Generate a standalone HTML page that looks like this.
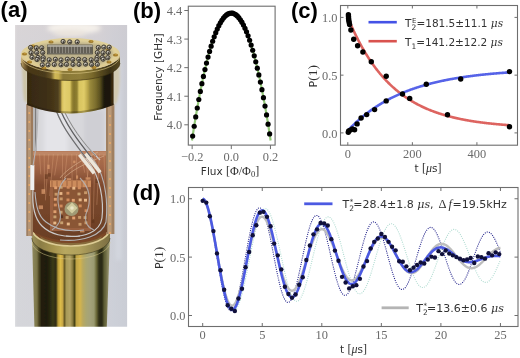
<!DOCTYPE html>
<html><head><meta charset="utf-8"><style>
html,body{margin:0;padding:0;background:#fff;}
body{width:520px;height:358px;overflow:hidden;}
svg{display:block;}
.tk{font-family:"Liberation Serif",serif;font-size:12.4px;fill:#6a6a6a;}
.lbl{font-family:"DejaVu Sans","Liberation Sans",sans-serif;font-size:10.5px;fill:#303030;}
.lg{font-family:"DejaVu Sans","Liberation Sans",sans-serif;font-size:10.5px;fill:#333;}
.mu{font-family:"DejaVu Serif","Liberation Serif",serif;font-style:italic;}
.sf{font-family:"Liberation Serif",serif;font-size:12px;}
.ser{font-family:"Liberation Serif",serif;}
.si{font-family:"Liberation Serif",serif;font-style:italic;}
.pl{font-family:"Liberation Sans",Arial,sans-serif;font-weight:bold;font-size:22px;fill:#000;}
</style></head><body>
<svg width="520" height="358" viewBox="0 0 520 358">
<defs><clipPath id="ph"><rect x="15" y="25" width="112.3" height="301.8"/></clipPath><filter id="blp" x="0" y="0" width="100%" height="100%"><feGaussianBlur stdDeviation="0.55"/></filter><filter id="bl05" x="-20%" y="-20%" width="140%" height="140%"><feGaussianBlur stdDeviation="0.45"/></filter><filter id="bl1" x="-20%" y="-20%" width="140%" height="140%"><feGaussianBlur stdDeviation="0.8"/></filter><filter id="bl2" x="-50%" y="-50%" width="200%" height="200%"><feGaussianBlur stdDeviation="2"/></filter><linearGradient id="bgv" gradientUnits="userSpaceOnUse" x1="0" y1="25" x2="0" y2="326"><stop offset="0.0000" stop-color="#dcd2d2"/><stop offset="0.0831" stop-color="#d8d2d4"/><stop offset="0.2492" stop-color="#d4d2d6"/><stop offset="1.0000" stop-color="#d3d5da"/></linearGradient><linearGradient id="bgh" gradientUnits="userSpaceOnUse" x1="15" y1="0" x2="126.5" y2="0"><stop offset="0.0000" stop-color="#e4e4e6"/><stop offset="0.0179" stop-color="#d6d6da"/><stop offset="0.7623" stop-color="#d0d0d6"/><stop offset="0.8879" stop-color="#c8ccd6"/><stop offset="1.0000" stop-color="#c4c8d2"/></linearGradient><linearGradient id="side" gradientUnits="userSpaceOnUse" x1="27" y1="0" x2="113.6" y2="0"><stop offset="0.0000" stop-color="#4a3a1c"/><stop offset="0.0173" stop-color="#36280f"/><stop offset="0.0924" stop-color="#3a2c14"/><stop offset="0.2079" stop-color="#3c2e16"/><stop offset="0.2887" stop-color="#443418"/><stop offset="0.3580" stop-color="#4e3e1c"/><stop offset="0.3868" stop-color="#7a6830"/><stop offset="0.4042" stop-color="#d4bc58"/><stop offset="0.4273" stop-color="#e4d070"/><stop offset="0.4965" stop-color="#dcc864"/><stop offset="0.5196" stop-color="#9a8834"/><stop offset="0.5427" stop-color="#84742c"/><stop offset="0.5774" stop-color="#908030"/><stop offset="0.6005" stop-color="#d8c460"/><stop offset="0.6582" stop-color="#e0cc68"/><stop offset="0.7044" stop-color="#b8a448"/><stop offset="0.7275" stop-color="#9a8a3c"/><stop offset="0.7968" stop-color="#7a6c2c"/><stop offset="0.8430" stop-color="#5a5020"/><stop offset="0.8891" stop-color="#1e1a0a"/><stop offset="0.9584" stop-color="#1a1608"/><stop offset="0.9815" stop-color="#3a2a10"/><stop offset="1.0000" stop-color="#3a2c12"/></linearGradient><linearGradient id="lip" gradientUnits="userSpaceOnUse" x1="21" y1="0" x2="120" y2="0"><stop offset="0.0000" stop-color="#c8b078"/><stop offset="0.0303" stop-color="#8a7040"/><stop offset="0.0707" stop-color="#4a3818"/><stop offset="0.2424" stop-color="#4a3a1a"/><stop offset="0.3030" stop-color="#6a5828"/><stop offset="0.3434" stop-color="#d0b858"/><stop offset="0.3788" stop-color="#c8b050"/><stop offset="0.4242" stop-color="#8a7838"/><stop offset="0.5960" stop-color="#907e3a"/><stop offset="0.7172" stop-color="#7a6a2c"/><stop offset="0.7980" stop-color="#5a4c20"/><stop offset="0.8990" stop-color="#3a3016"/><stop offset="1.0000" stop-color="#5a4c24"/></linearGradient><radialGradient id="topsurf" cx="0.5" cy="0.45" r="0.62"><stop offset="0" stop-color="#e2d4a4"/><stop offset="0.75" stop-color="#e0d098"/><stop offset="0.9" stop-color="#dcc68c"/><stop offset="1" stop-color="#cdb478"/></radialGradient><linearGradient id="cyl" gradientUnits="userSpaceOnUse" x1="32" y1="0" x2="110" y2="0"><stop offset="0.0000" stop-color="#9a9468"/><stop offset="0.0192" stop-color="#8a8458"/><stop offset="0.0641" stop-color="#7a7448"/><stop offset="0.0897" stop-color="#4a4420"/><stop offset="0.1218" stop-color="#221e0c"/><stop offset="0.1923" stop-color="#1e1c0c"/><stop offset="0.2308" stop-color="#2a2a12"/><stop offset="0.2692" stop-color="#3a3a18"/><stop offset="0.3077" stop-color="#2e2c12"/><stop offset="0.3333" stop-color="#b89a38"/><stop offset="0.3654" stop-color="#dcbc48"/><stop offset="0.3910" stop-color="#caa844"/><stop offset="0.4167" stop-color="#6a5c28"/><stop offset="0.4423" stop-color="#a89a58"/><stop offset="0.4872" stop-color="#b4a464"/><stop offset="0.5192" stop-color="#8a7c40"/><stop offset="0.5449" stop-color="#4a4418"/><stop offset="0.5705" stop-color="#c0a444"/><stop offset="0.6154" stop-color="#d4b44c"/><stop offset="0.6538" stop-color="#b8a860"/><stop offset="0.6923" stop-color="#aaa670"/><stop offset="0.7436" stop-color="#a4a27a"/><stop offset="0.7949" stop-color="#9a9a70"/><stop offset="0.8269" stop-color="#6a6838"/><stop offset="0.8590" stop-color="#2e2e14"/><stop offset="0.8974" stop-color="#2a2a12"/><stop offset="0.9231" stop-color="#5a5a34"/><stop offset="0.9487" stop-color="#6e6c44"/><stop offset="0.9744" stop-color="#8a8862"/><stop offset="1.0000" stop-color="#9a9670"/></linearGradient><linearGradient id="cylrim" gradientUnits="userSpaceOnUse" x1="31" y1="0" x2="111" y2="0"><stop offset="0.0000" stop-color="#a09460"/><stop offset="0.1125" stop-color="#8a7c44"/><stop offset="0.3000" stop-color="#a89650"/><stop offset="0.4250" stop-color="#b8a860"/><stop offset="0.6125" stop-color="#b0a05c"/><stop offset="0.8000" stop-color="#948650"/><stop offset="1.0000" stop-color="#7a6c40"/></linearGradient><linearGradient id="plate" gradientUnits="userSpaceOnUse" x1="0" y1="150" x2="0" y2="240"><stop offset="0.0000" stop-color="#b27452"/><stop offset="0.2000" stop-color="#a06446"/><stop offset="0.3889" stop-color="#7e4a2e"/><stop offset="1.0000" stop-color="#6a3e24"/></linearGradient></defs>
<g clip-path="url(#ph)"><g filter="url(#blp)">
<rect x="15" y="25" width="112.3" height="302" fill="url(#bgv)"/>
<rect x="15" y="25" width="112.3" height="302" fill="url(#bgh)" opacity="0.6"/>
<ellipse cx="74" cy="28" rx="27" ry="6" fill="#f4f0ea" filter="url(#bl2)"/>
<ellipse cx="70" cy="33" rx="16" ry="3" fill="#ebe4dc" filter="url(#bl2)"/>
<rect x="36" y="108" width="70" height="50" fill="#d8d8dc"/>
<rect x="44" y="110" width="24" height="45" fill="#e4e4e8" filter="url(#bl2)"/>
<rect x="84" y="110" width="20" height="45" fill="#cfcfd4" filter="url(#bl2)"/>
<rect x="116" y="60" width="5" height="200" fill="#d4d8e0" filter="url(#bl2)"/>
<path d="M32,236 L110,236 L106.8,327 L34.4,327 Z" fill="url(#cyl)"/>
<path d="M31.8,229 A39,17 0 0 0 110,229 L110,238 A39,17 0 0 1 31.8,238 Z" fill="url(#cylrim)"/>
<path d="M31.8,238 A39,17 0 0 0 110,238" fill="none" stroke="#3a3418" stroke-width="1" opacity="0.55"/>
<path d="M32,242 A39,17 0 0 0 110,242" fill="none" stroke="#d8c888" stroke-width="1" opacity="0.5"/>
<ellipse cx="70.9" cy="229" rx="38.6" ry="17" fill="#7a4628"/>
<path d="M40,236 A34,12 0 0 0 102,236 L100,240 A32,9 0 0 1 42,240 Z" fill="#8a7440" opacity="0.8"/>
<ellipse cx="70.9" cy="229" rx="38.6" ry="17" fill="none" stroke="#dccc94" stroke-width="1.7"/>
<rect x="26.3" y="104" width="6.7" height="132" fill="#9c7a5c"/>
<rect x="27.8" y="104" width="3.2" height="132" fill="#b89878" opacity="0.9"/>
<rect x="33" y="104" width="2" height="52" fill="#b8b6b6"/>
<rect x="35" y="104" width="1.4" height="52" fill="#7e7c7c"/>
<rect x="106" y="104" width="8.4" height="130" fill="#a08060"/>
<rect x="108" y="104" width="3.6" height="130" fill="#bc9c7c" opacity="0.9"/>
<circle cx="29.3" cy="113" r="1.0" fill="#e8a868"/>
<circle cx="110" cy="116" r="1.0" fill="#e8a868"/>
<circle cx="29.3" cy="122" r="1.0" fill="#e8a868"/>
<circle cx="110" cy="125" r="1.0" fill="#e8a868"/>
<circle cx="29.3" cy="131" r="1.0" fill="#e8a868"/>
<circle cx="110" cy="134" r="1.0" fill="#e8a868"/>
<circle cx="29.3" cy="140" r="1.0" fill="#e8a868"/>
<circle cx="110" cy="143" r="1.0" fill="#e8a868"/>
<circle cx="29.3" cy="149" r="1.0" fill="#e8a868"/>
<circle cx="110" cy="152" r="1.0" fill="#e8a868"/>
<circle cx="29.3" cy="158" r="1.0" fill="#e8a868"/>
<circle cx="110" cy="161" r="1.0" fill="#e8a868"/>
<circle cx="29.3" cy="167" r="1.0" fill="#e8a868"/>
<circle cx="110" cy="170" r="1.0" fill="#e8a868"/>
<circle cx="29.3" cy="176" r="1.0" fill="#e8a868"/>
<circle cx="110" cy="179" r="1.0" fill="#e8a868"/>
<circle cx="29.3" cy="185" r="1.0" fill="#e8a868"/>
<circle cx="110" cy="188" r="1.0" fill="#e8a868"/>
<circle cx="29.3" cy="194" r="1.0" fill="#e8a868"/>
<circle cx="110" cy="197" r="1.0" fill="#e8a868"/>
<circle cx="29.3" cy="203" r="1.0" fill="#e8a868"/>
<circle cx="110" cy="206" r="1.0" fill="#e8a868"/>
<circle cx="29.3" cy="212" r="1.0" fill="#e8a868"/>
<circle cx="110" cy="215" r="1.0" fill="#e8a868"/>
<circle cx="29.3" cy="221" r="1.0" fill="#e8a868"/>
<circle cx="110" cy="224" r="1.0" fill="#e8a868"/>
<circle cx="29.3" cy="230" r="1.0" fill="#e8a868"/>
<circle cx="110" cy="233" r="1.0" fill="#e8a868"/>
<path d="M33,151 L106,151 L107,232 Q71,250 33,232 Z" fill="url(#plate)"/>
<rect x="33" y="151.5" width="73" height="4" fill="#c08a68" opacity="0.9"/>
<line x1="35.0" y1="154" x2="33.6" y2="179.1" stroke="#e0a880" stroke-width="0.6" opacity="0.55"/>
<line x1="39.6" y1="154" x2="40.8" y2="174.3" stroke="#e0a880" stroke-width="0.6" opacity="0.55"/>
<line x1="44.2" y1="154" x2="44.5" y2="191.9" stroke="#e0a880" stroke-width="0.6" opacity="0.55"/>
<line x1="48.8" y1="154" x2="45.3" y2="200.4" stroke="#e0a880" stroke-width="0.6" opacity="0.55"/>
<line x1="53.4" y1="154" x2="49.7" y2="196.0" stroke="#e0a880" stroke-width="0.6" opacity="0.55"/>
<line x1="58.0" y1="154" x2="54.6" y2="175.4" stroke="#e0a880" stroke-width="0.6" opacity="0.55"/>
<line x1="62.6" y1="154" x2="62.0" y2="219.6" stroke="#e0a880" stroke-width="0.6" opacity="0.55"/>
<line x1="67.2" y1="154" x2="64.2" y2="183.4" stroke="#e0a880" stroke-width="0.6" opacity="0.55"/>
<line x1="71.8" y1="154" x2="72.8" y2="226.9" stroke="#e0a880" stroke-width="0.6" opacity="0.55"/>
<line x1="76.4" y1="154" x2="77.0" y2="193.8" stroke="#e0a880" stroke-width="0.6" opacity="0.55"/>
<line x1="81.0" y1="154" x2="84.8" y2="172.8" stroke="#e0a880" stroke-width="0.6" opacity="0.55"/>
<line x1="85.6" y1="154" x2="88.5" y2="187.4" stroke="#e0a880" stroke-width="0.6" opacity="0.55"/>
<line x1="90.2" y1="154" x2="87.4" y2="177.1" stroke="#e0a880" stroke-width="0.6" opacity="0.55"/>
<line x1="94.8" y1="154" x2="93.3" y2="219.0" stroke="#e0a880" stroke-width="0.6" opacity="0.55"/>
<line x1="99.4" y1="154" x2="96.8" y2="204.9" stroke="#e0a880" stroke-width="0.6" opacity="0.55"/>
<line x1="104.0" y1="154" x2="105.1" y2="192.3" stroke="#e0a880" stroke-width="0.6" opacity="0.55"/>
<rect x="73.2" y="160.6" width="2.2" height="2.6" fill="#e0a070" opacity="0.7"/>
<rect x="82.3" y="187.6" width="2.9" height="3.8" fill="#5a3018" opacity="0.5"/>
<rect x="66.8" y="178.2" width="4.4" height="4.1" fill="#e0a070" opacity="0.7"/>
<rect x="52.6" y="198.5" width="3.6" height="4.6" fill="#5a3018" opacity="0.5"/>
<rect x="85.6" y="177.3" width="4.9" height="2.4" fill="#e0a070" opacity="0.7"/>
<rect x="64.4" y="212.0" width="2.5" height="3.5" fill="#5a3018" opacity="0.5"/>
<rect x="38.7" y="205.4" width="4.3" height="3.7" fill="#e0a070" opacity="0.7"/>
<rect x="95.5" y="179.2" width="4.1" height="3.8" fill="#5a3018" opacity="0.5"/>
<rect x="75.4" y="189.8" width="4.5" height="4.8" fill="#e0a070" opacity="0.7"/>
<rect x="68.2" y="205.1" width="2.2" height="4.1" fill="#5a3018" opacity="0.5"/>
<rect x="80.0" y="229.5" width="4.5" height="2.9" fill="#e0a070" opacity="0.7"/>
<rect x="62.2" y="205.5" width="2.1" height="3.4" fill="#5a3018" opacity="0.5"/>
<rect x="47.4" y="164.7" width="2.2" height="4.3" fill="#e0a070" opacity="0.7"/>
<rect x="44.8" y="174.3" width="3.2" height="4.6" fill="#5a3018" opacity="0.5"/>
<rect x="41.5" y="189.2" width="3.6" height="4.7" fill="#e0a070" opacity="0.7"/>
<rect x="91.7" y="219.9" width="2.8" height="3.2" fill="#5a3018" opacity="0.5"/>
<rect x="60.4" y="221.4" width="4.9" height="2.5" fill="#e0a070" opacity="0.7"/>
<rect x="48.0" y="173.2" width="2.7" height="3.5" fill="#5a3018" opacity="0.5"/>
<rect x="76.1" y="175.4" width="2.0" height="3.3" fill="#e0a070" opacity="0.7"/>
<rect x="61.1" y="197.9" width="4.9" height="4.1" fill="#5a3018" opacity="0.5"/>
<rect x="50" y="180" width="41" height="51" fill="#9a6040"/>
<rect x="50" y="180.5" width="41" height="6.5" fill="#cc8c5c"/>
<line x1="52.0" y1="181" x2="52.0" y2="187" stroke="#8a5030" stroke-width="0.7"/>
<line x1="57.0" y1="181" x2="57.0" y2="187" stroke="#8a5030" stroke-width="0.7"/>
<line x1="62.0" y1="181" x2="62.0" y2="187" stroke="#8a5030" stroke-width="0.7"/>
<line x1="67.0" y1="181" x2="67.0" y2="187" stroke="#8a5030" stroke-width="0.7"/>
<line x1="72.0" y1="181" x2="72.0" y2="187" stroke="#8a5030" stroke-width="0.7"/>
<line x1="77.0" y1="181" x2="77.0" y2="187" stroke="#8a5030" stroke-width="0.7"/>
<line x1="82.0" y1="181" x2="82.0" y2="187" stroke="#8a5030" stroke-width="0.7"/>
<line x1="87.0" y1="181" x2="87.0" y2="187" stroke="#8a5030" stroke-width="0.7"/>
<rect x="53" y="188" width="35" height="40" fill="#8a5636"/>
<rect x="54.2" y="186.4" width="3" height="2.8" fill="#e0a070"/>
<rect x="54.6" y="192.8" width="3" height="2.8" fill="#c89868"/>
<rect x="53.8" y="197.9" width="3" height="2.8" fill="#e0a070"/>
<rect x="53.8" y="203.6" width="3" height="2.8" fill="#d08c5c"/>
<rect x="53.4" y="210.3" width="3" height="2.8" fill="#e0a070"/>
<rect x="53.4" y="215.5" width="3" height="2.8" fill="#c8a070"/>
<rect x="53.3" y="221.6" width="3" height="2.8" fill="#e8b888"/>
<rect x="59.6" y="185.9" width="3" height="2.8" fill="#c8a070"/>
<rect x="59.4" y="192.1" width="3" height="2.8" fill="#e8b888"/>
<rect x="59.7" y="197.5" width="3" height="2.8" fill="#c89868"/>
<rect x="59.6" y="204.6" width="3" height="2.8" fill="#d08c5c"/>
<rect x="59.5" y="210.8" width="3" height="2.8" fill="#c8a070"/>
<rect x="60.1" y="215.3" width="3" height="2.8" fill="#5a3420"/>
<rect x="60.2" y="221.4" width="3" height="2.8" fill="#c8a070"/>
<rect x="66.7" y="185.9" width="3" height="2.8" fill="#d08c5c"/>
<rect x="66.4" y="191.8" width="3" height="2.8" fill="#d08c5c"/>
<rect x="66.5" y="198.5" width="3" height="2.8" fill="#d08c5c"/>
<rect x="65.6" y="216.1" width="3" height="2.8" fill="#c8a070"/>
<rect x="66.8" y="222.6" width="3" height="2.8" fill="#e8b888"/>
<rect x="72.3" y="186.8" width="3" height="2.8" fill="#e8b888"/>
<rect x="71.8" y="198.9" width="3" height="2.8" fill="#e0a070"/>
<rect x="71.6" y="203.6" width="3" height="2.8" fill="#d08c5c"/>
<rect x="72.8" y="210.3" width="3" height="2.8" fill="#e0a070"/>
<rect x="72.2" y="216.6" width="3" height="2.8" fill="#e0a070"/>
<rect x="77.8" y="186.4" width="3" height="2.8" fill="#d08c5c"/>
<rect x="77.5" y="192.6" width="3" height="2.8" fill="#c8a070"/>
<rect x="78.7" y="198.5" width="3" height="2.8" fill="#e8b888"/>
<rect x="78.7" y="204.5" width="3" height="2.8" fill="#d08c5c"/>
<rect x="78.1" y="216.0" width="3" height="2.8" fill="#c89868"/>
<rect x="78.5" y="222.9" width="3" height="2.8" fill="#c89868"/>
<rect x="84.1" y="191.3" width="3" height="2.8" fill="#c89868"/>
<rect x="84.0" y="198.8" width="3" height="2.8" fill="#e8b888"/>
<rect x="84.6" y="209.3" width="3" height="2.8" fill="#d08c5c"/>
<rect x="83.6" y="216.2" width="3" height="2.8" fill="#c8a070"/>
<rect x="84.5" y="221.4" width="3" height="2.8" fill="#c89868"/>
<circle cx="71.5" cy="209" r="7" fill="#a09a74"/>
<path d="M66.5,208 L72,202.5 L77.5,208 L72,213.5 Z" fill="#d2cca0"/>
<circle cx="72" cy="208" r="1.8" fill="#eae6c8"/>
<rect x="30.3" y="165" width="4" height="25" fill="#f0f0f0"/>
<path d="M54,104 C60,125 74,142 90,164 C100,178 104,200 102,218 C100,232 84,238 66,236" fill="none" stroke="#cacaca" stroke-width="1.2"/>
<path d="M58,104 C65,124 79,142 95,162 C106,178 108,204 106,222 C102,236 82,242 60,240" fill="none" stroke="#b4b4b6" stroke-width="1.1"/>
<path d="M61,104 C70,126 84,144 100,160" fill="none" stroke="#cacaca" stroke-width="1.2"/>
<path d="M38,104 C38,130 36,150 33,166" fill="none" stroke="#b4b4b6" stroke-width="1.1"/>
<path d="M33,190 C32,206 34,218 42,226 C50,234 64,238 80,236" fill="none" stroke="#cacaca" stroke-width="1.2"/>
<path d="M35,192 C36,206 38,216 46,222 C56,230 70,232 84,230" fill="none" stroke="#b4b4b6" stroke-width="1.1"/>
<path d="M66,178 C58,186 56,198 60,212 C62,220 58,226 52,230" fill="none" stroke="#b4b4b6" stroke-width="1.1" opacity="0.85"/>
<path d="M80,178 C90,188 92,200 86,214 C84,222 88,228 94,230" fill="none" stroke="#b4b4b6" stroke-width="1.1" opacity="0.85"/>
<path d="M60,178 C66,170 78,162 98,152" fill="none" stroke="#d8b090" stroke-width="0.8" opacity="0.8"/>
<path d="M64,178 C72,170 84,164 104,156" fill="none" stroke="#d8b090" stroke-width="0.8" opacity="0.8"/>
<rect x="85" y="152" width="3.6" height="24" fill="#ece6da" transform="rotate(-38 86.8 164)"/>
<rect x="91" y="151" width="3.6" height="24" fill="#ece6da" transform="rotate(-38 92.8 163)"/>
<path d="M54,104 C60,125 74,142 86,158" fill="none" stroke="#6c6c6e" stroke-width="1.1"/>
<path d="M58,104 C65,124 79,142 91,157" fill="none" stroke="#5e5e60" stroke-width="1.1"/>
<path d="M61,104 C70,126 84,144 96,156" fill="none" stroke="#8a8a8c" stroke-width="1"/>
<path d="M21.5,60 L27.5,66 L27.5,104 L24,100 Q22.5,90 22.5,78 Z" fill="#cdc4a6" filter="url(#bl1)"/>
<path d="M119.5,58 L113,66 L113,106 L117,102 Q119.5,92 119.8,80 Z" fill="#d2cab0" filter="url(#bl1)"/>
<path d="M27,70 L27,105 Q70,122 113.6,105 L113.6,70 Z" fill="url(#side)"/>
<path d="M27,103 Q70,120 113.6,103 L113.6,105 Q70,122 27,105 Z" fill="#1e180a" opacity="0.3"/>
<path d="M21,54.5 A49.5,16.5 0 0 0 120,54.5 L120,63 A49.5,17.5 0 0 1 21,63 Z" fill="url(#lip)"/>
<path d="M21.5,57 A49,16.5 0 0 0 119.5,57" fill="none" stroke="#e0cc88" stroke-width="1" opacity="0.6"/>
<path d="M21,63 A49.5,17.5 0 0 0 120,63" fill="none" stroke="#3a2e10" stroke-width="1" opacity="0.6"/>
<ellipse cx="70.5" cy="54.5" rx="49.5" ry="16.5" fill="url(#topsurf)"/>
<ellipse cx="24.5" cy="54" rx="2.6" ry="1.6" fill="#a07a2a"/>
<ellipse cx="24.9" cy="53.6" rx="1.3" ry="0.8" fill="#c8a040" opacity="0.7"/>
<ellipse cx="29.5" cy="62" rx="2.6" ry="1.6" fill="#a07a2a"/>
<ellipse cx="29.9" cy="61.6" rx="1.3" ry="0.8" fill="#c8a040" opacity="0.7"/>
<ellipse cx="44" cy="68" rx="2.6" ry="1.6" fill="#a07a2a"/>
<ellipse cx="44.4" cy="67.6" rx="1.3" ry="0.8" fill="#c8a040" opacity="0.7"/>
<ellipse cx="70" cy="69.5" rx="2.6" ry="1.6" fill="#a07a2a"/>
<ellipse cx="70.4" cy="69.1" rx="1.3" ry="0.8" fill="#c8a040" opacity="0.7"/>
<ellipse cx="94" cy="67.5" rx="2.6" ry="1.6" fill="#a07a2a"/>
<ellipse cx="94.4" cy="67.1" rx="1.3" ry="0.8" fill="#c8a040" opacity="0.7"/>
<ellipse cx="109" cy="62" rx="2.6" ry="1.6" fill="#a07a2a"/>
<ellipse cx="109.4" cy="61.6" rx="1.3" ry="0.8" fill="#c8a040" opacity="0.7"/>
<ellipse cx="115.5" cy="55" rx="2.6" ry="1.6" fill="#a07a2a"/>
<ellipse cx="115.9" cy="54.6" rx="1.3" ry="0.8" fill="#c8a040" opacity="0.7"/>
<ellipse cx="108" cy="49.5" rx="2.6" ry="1.6" fill="#a07a2a"/>
<ellipse cx="108.4" cy="49.1" rx="1.3" ry="0.8" fill="#c8a040" opacity="0.7"/>
<ellipse cx="91" cy="41.5" rx="2.6" ry="1.6" fill="#a07a2a"/>
<ellipse cx="91.4" cy="41.1" rx="1.3" ry="0.8" fill="#c8a040" opacity="0.7"/>
<ellipse cx="51" cy="42" rx="2.6" ry="1.6" fill="#a07a2a"/>
<ellipse cx="51.4" cy="41.6" rx="1.3" ry="0.8" fill="#c8a040" opacity="0.7"/>
<ellipse cx="33" cy="46" rx="2.6" ry="1.6" fill="#a07a2a"/>
<ellipse cx="33.4" cy="45.6" rx="1.3" ry="0.8" fill="#c8a040" opacity="0.7"/>
<path d="M28,53 C28,46 46,42 70,42 C96,42 113,46 113,53 C113,62 96,67.5 70,67.5 C46,67.5 28,62 28,53 Z" fill="#7e786a" opacity="0.35" filter="url(#bl1)"/>
<circle cx="30.6" cy="47.5" r="2.15" fill="#9a958a" stroke="#2e2a22" stroke-width="0.8"/>
<circle cx="30.1" cy="46.9" r="0.6" fill="#e8e4da"/>
<circle cx="30.9" cy="48.1" r="0.8" fill="#2a2620"/>
<circle cx="36.3" cy="47.8" r="2.15" fill="#9a958a" stroke="#2e2a22" stroke-width="0.8"/>
<circle cx="35.8" cy="47.2" r="0.6" fill="#e8e4da"/>
<circle cx="36.6" cy="48.4" r="0.8" fill="#2a2620"/>
<circle cx="41.7" cy="47.8" r="2.15" fill="#9a958a" stroke="#2e2a22" stroke-width="0.8"/>
<circle cx="41.2" cy="47.2" r="0.6" fill="#e8e4da"/>
<circle cx="42.0" cy="48.4" r="0.8" fill="#2a2620"/>
<circle cx="98.3" cy="47.5" r="2.15" fill="#9a958a" stroke="#2e2a22" stroke-width="0.8"/>
<circle cx="97.8" cy="46.9" r="0.6" fill="#e8e4da"/>
<circle cx="98.6" cy="48.1" r="0.8" fill="#2a2620"/>
<circle cx="103.8" cy="47.1" r="2.15" fill="#9a958a" stroke="#2e2a22" stroke-width="0.8"/>
<circle cx="103.3" cy="46.5" r="0.6" fill="#e8e4da"/>
<circle cx="104.1" cy="47.7" r="0.8" fill="#2a2620"/>
<circle cx="109.2" cy="47.2" r="2.15" fill="#9a958a" stroke="#2e2a22" stroke-width="0.8"/>
<circle cx="108.7" cy="46.6" r="0.6" fill="#e8e4da"/>
<circle cx="109.5" cy="47.8" r="0.8" fill="#2a2620"/>
<circle cx="31.1" cy="52.7" r="2.15" fill="#9a958a" stroke="#2e2a22" stroke-width="0.8"/>
<circle cx="30.6" cy="52.1" r="0.6" fill="#e8e4da"/>
<circle cx="31.4" cy="53.3" r="0.8" fill="#2a2620"/>
<circle cx="36.7" cy="52.5" r="2.15" fill="#9a958a" stroke="#2e2a22" stroke-width="0.8"/>
<circle cx="36.2" cy="51.9" r="0.6" fill="#e8e4da"/>
<circle cx="37.0" cy="53.1" r="0.8" fill="#2a2620"/>
<circle cx="42.7" cy="52.5" r="2.15" fill="#9a958a" stroke="#2e2a22" stroke-width="0.8"/>
<circle cx="42.2" cy="51.9" r="0.6" fill="#e8e4da"/>
<circle cx="43.0" cy="53.1" r="0.8" fill="#2a2620"/>
<circle cx="97.4" cy="52.5" r="2.15" fill="#9a958a" stroke="#2e2a22" stroke-width="0.8"/>
<circle cx="96.9" cy="51.9" r="0.6" fill="#e8e4da"/>
<circle cx="97.7" cy="53.1" r="0.8" fill="#2a2620"/>
<circle cx="103.0" cy="52.7" r="2.15" fill="#9a958a" stroke="#2e2a22" stroke-width="0.8"/>
<circle cx="102.5" cy="52.1" r="0.6" fill="#e8e4da"/>
<circle cx="103.3" cy="53.3" r="0.8" fill="#2a2620"/>
<circle cx="108.2" cy="52.5" r="2.15" fill="#9a958a" stroke="#2e2a22" stroke-width="0.8"/>
<circle cx="107.7" cy="51.9" r="0.6" fill="#e8e4da"/>
<circle cx="108.5" cy="53.1" r="0.8" fill="#2a2620"/>
<circle cx="32.0" cy="57.3" r="2.15" fill="#9a958a" stroke="#2e2a22" stroke-width="0.8"/>
<circle cx="31.5" cy="56.7" r="0.6" fill="#e8e4da"/>
<circle cx="32.3" cy="57.9" r="0.8" fill="#2a2620"/>
<circle cx="38.0" cy="57.5" r="2.15" fill="#9a958a" stroke="#2e2a22" stroke-width="0.8"/>
<circle cx="37.5" cy="56.9" r="0.6" fill="#e8e4da"/>
<circle cx="38.3" cy="58.1" r="0.8" fill="#2a2620"/>
<circle cx="43.3" cy="57.7" r="2.15" fill="#9a958a" stroke="#2e2a22" stroke-width="0.8"/>
<circle cx="42.8" cy="57.1" r="0.6" fill="#e8e4da"/>
<circle cx="43.6" cy="58.3" r="0.8" fill="#2a2620"/>
<circle cx="97.1" cy="57.5" r="2.15" fill="#9a958a" stroke="#2e2a22" stroke-width="0.8"/>
<circle cx="96.6" cy="56.9" r="0.6" fill="#e8e4da"/>
<circle cx="97.4" cy="58.1" r="0.8" fill="#2a2620"/>
<circle cx="102.3" cy="57.5" r="2.15" fill="#9a958a" stroke="#2e2a22" stroke-width="0.8"/>
<circle cx="101.8" cy="56.9" r="0.6" fill="#e8e4da"/>
<circle cx="102.6" cy="58.1" r="0.8" fill="#2a2620"/>
<circle cx="107.8" cy="57.7" r="2.15" fill="#9a958a" stroke="#2e2a22" stroke-width="0.8"/>
<circle cx="107.3" cy="57.1" r="0.6" fill="#e8e4da"/>
<circle cx="108.1" cy="58.3" r="0.8" fill="#2a2620"/>
<circle cx="37.0" cy="59.5" r="2.15" fill="#9a958a" stroke="#2e2a22" stroke-width="0.8"/>
<circle cx="36.5" cy="58.9" r="0.6" fill="#e8e4da"/>
<circle cx="37.3" cy="60.1" r="0.8" fill="#2a2620"/>
<circle cx="43.0" cy="59.9" r="2.15" fill="#9a958a" stroke="#2e2a22" stroke-width="0.8"/>
<circle cx="42.5" cy="59.3" r="0.6" fill="#e8e4da"/>
<circle cx="43.3" cy="60.5" r="0.8" fill="#2a2620"/>
<circle cx="49.2" cy="59.8" r="2.15" fill="#9a958a" stroke="#2e2a22" stroke-width="0.8"/>
<circle cx="48.7" cy="59.2" r="0.6" fill="#e8e4da"/>
<circle cx="49.5" cy="60.4" r="0.8" fill="#2a2620"/>
<circle cx="55.4" cy="59.3" r="2.15" fill="#9a958a" stroke="#2e2a22" stroke-width="0.8"/>
<circle cx="54.9" cy="58.7" r="0.6" fill="#e8e4da"/>
<circle cx="55.7" cy="59.9" r="0.8" fill="#2a2620"/>
<circle cx="61.0" cy="59.9" r="2.15" fill="#9a958a" stroke="#2e2a22" stroke-width="0.8"/>
<circle cx="60.5" cy="59.3" r="0.6" fill="#e8e4da"/>
<circle cx="61.3" cy="60.5" r="0.8" fill="#2a2620"/>
<circle cx="67.3" cy="59.2" r="2.15" fill="#9a958a" stroke="#2e2a22" stroke-width="0.8"/>
<circle cx="66.8" cy="58.6" r="0.6" fill="#e8e4da"/>
<circle cx="67.6" cy="59.8" r="0.8" fill="#2a2620"/>
<circle cx="72.7" cy="59.5" r="2.15" fill="#9a958a" stroke="#2e2a22" stroke-width="0.8"/>
<circle cx="72.2" cy="58.9" r="0.6" fill="#e8e4da"/>
<circle cx="73.0" cy="60.1" r="0.8" fill="#2a2620"/>
<circle cx="78.7" cy="59.3" r="2.15" fill="#9a958a" stroke="#2e2a22" stroke-width="0.8"/>
<circle cx="78.2" cy="58.7" r="0.6" fill="#e8e4da"/>
<circle cx="79.0" cy="59.9" r="0.8" fill="#2a2620"/>
<circle cx="84.7" cy="59.6" r="2.15" fill="#9a958a" stroke="#2e2a22" stroke-width="0.8"/>
<circle cx="84.2" cy="59.0" r="0.6" fill="#e8e4da"/>
<circle cx="85.0" cy="60.2" r="0.8" fill="#2a2620"/>
<circle cx="91.2" cy="59.8" r="2.15" fill="#9a958a" stroke="#2e2a22" stroke-width="0.8"/>
<circle cx="90.7" cy="59.2" r="0.6" fill="#e8e4da"/>
<circle cx="91.5" cy="60.4" r="0.8" fill="#2a2620"/>
<circle cx="96.7" cy="59.7" r="2.15" fill="#9a958a" stroke="#2e2a22" stroke-width="0.8"/>
<circle cx="96.2" cy="59.1" r="0.6" fill="#e8e4da"/>
<circle cx="97.0" cy="60.3" r="0.8" fill="#2a2620"/>
<circle cx="103.1" cy="59.2" r="2.15" fill="#9a958a" stroke="#2e2a22" stroke-width="0.8"/>
<circle cx="102.6" cy="58.6" r="0.6" fill="#e8e4da"/>
<circle cx="103.4" cy="59.8" r="0.8" fill="#2a2620"/>
<circle cx="42.3" cy="64.9" r="2.15" fill="#9a958a" stroke="#2e2a22" stroke-width="0.8"/>
<circle cx="41.8" cy="64.3" r="0.6" fill="#e8e4da"/>
<circle cx="42.6" cy="65.5" r="0.8" fill="#2a2620"/>
<circle cx="48.0" cy="64.9" r="2.15" fill="#9a958a" stroke="#2e2a22" stroke-width="0.8"/>
<circle cx="47.5" cy="64.3" r="0.6" fill="#e8e4da"/>
<circle cx="48.3" cy="65.5" r="0.8" fill="#2a2620"/>
<circle cx="54.3" cy="64.5" r="2.15" fill="#9a958a" stroke="#2e2a22" stroke-width="0.8"/>
<circle cx="53.8" cy="63.9" r="0.6" fill="#e8e4da"/>
<circle cx="54.6" cy="65.1" r="0.8" fill="#2a2620"/>
<circle cx="61.0" cy="64.8" r="2.15" fill="#9a958a" stroke="#2e2a22" stroke-width="0.8"/>
<circle cx="60.5" cy="64.2" r="0.6" fill="#e8e4da"/>
<circle cx="61.3" cy="65.4" r="0.8" fill="#2a2620"/>
<circle cx="66.5" cy="64.4" r="2.15" fill="#9a958a" stroke="#2e2a22" stroke-width="0.8"/>
<circle cx="66.0" cy="63.8" r="0.6" fill="#e8e4da"/>
<circle cx="66.8" cy="65.0" r="0.8" fill="#2a2620"/>
<circle cx="73.0" cy="64.4" r="2.15" fill="#9a958a" stroke="#2e2a22" stroke-width="0.8"/>
<circle cx="72.5" cy="63.8" r="0.6" fill="#e8e4da"/>
<circle cx="73.3" cy="65.0" r="0.8" fill="#2a2620"/>
<circle cx="79.0" cy="64.4" r="2.15" fill="#9a958a" stroke="#2e2a22" stroke-width="0.8"/>
<circle cx="78.5" cy="63.8" r="0.6" fill="#e8e4da"/>
<circle cx="79.3" cy="65.0" r="0.8" fill="#2a2620"/>
<circle cx="85.6" cy="64.1" r="2.15" fill="#9a958a" stroke="#2e2a22" stroke-width="0.8"/>
<circle cx="85.1" cy="63.5" r="0.6" fill="#e8e4da"/>
<circle cx="85.9" cy="64.7" r="0.8" fill="#2a2620"/>
<circle cx="91.6" cy="64.5" r="2.15" fill="#9a958a" stroke="#2e2a22" stroke-width="0.8"/>
<circle cx="91.1" cy="63.9" r="0.6" fill="#e8e4da"/>
<circle cx="91.9" cy="65.1" r="0.8" fill="#2a2620"/>
<circle cx="97.4" cy="64.4" r="2.15" fill="#9a958a" stroke="#2e2a22" stroke-width="0.8"/>
<circle cx="96.9" cy="63.8" r="0.6" fill="#e8e4da"/>
<circle cx="97.7" cy="65.0" r="0.8" fill="#2a2620"/>
<circle cx="63.1" cy="41.5" r="2.15" fill="#9a958a" stroke="#2e2a22" stroke-width="0.8"/>
<circle cx="62.6" cy="40.9" r="0.6" fill="#e8e4da"/>
<circle cx="63.4" cy="42.1" r="0.8" fill="#2a2620"/>
<circle cx="69.7" cy="41.9" r="2.15" fill="#9a958a" stroke="#2e2a22" stroke-width="0.8"/>
<circle cx="69.2" cy="41.3" r="0.6" fill="#e8e4da"/>
<circle cx="70.0" cy="42.5" r="0.8" fill="#2a2620"/>
<circle cx="77.2" cy="41.9" r="2.15" fill="#9a958a" stroke="#2e2a22" stroke-width="0.8"/>
<circle cx="76.7" cy="41.3" r="0.6" fill="#e8e4da"/>
<circle cx="77.5" cy="42.5" r="0.8" fill="#2a2620"/>
<rect x="47.5" y="45" width="45" height="9" fill="#8c887e" stroke="#3a362e" stroke-width="0.6"/>
<line x1="49.0" y1="45.8" x2="49.0" y2="53.2" stroke="#3a362e" stroke-width="1"/>
<line x1="52.0" y1="45.8" x2="52.0" y2="53.2" stroke="#3a362e" stroke-width="1"/>
<line x1="55.0" y1="45.8" x2="55.0" y2="53.2" stroke="#3a362e" stroke-width="1"/>
<line x1="58.0" y1="45.8" x2="58.0" y2="53.2" stroke="#3a362e" stroke-width="1"/>
<line x1="61.0" y1="45.8" x2="61.0" y2="53.2" stroke="#3a362e" stroke-width="1"/>
<line x1="64.0" y1="45.8" x2="64.0" y2="53.2" stroke="#3a362e" stroke-width="1"/>
<line x1="67.0" y1="45.8" x2="67.0" y2="53.2" stroke="#3a362e" stroke-width="1"/>
<line x1="70.0" y1="45.8" x2="70.0" y2="53.2" stroke="#3a362e" stroke-width="1"/>
<line x1="73.0" y1="45.8" x2="73.0" y2="53.2" stroke="#3a362e" stroke-width="1"/>
<line x1="76.0" y1="45.8" x2="76.0" y2="53.2" stroke="#3a362e" stroke-width="1"/>
<line x1="79.0" y1="45.8" x2="79.0" y2="53.2" stroke="#3a362e" stroke-width="1"/>
<line x1="82.0" y1="45.8" x2="82.0" y2="53.2" stroke="#3a362e" stroke-width="1"/>
<line x1="85.0" y1="45.8" x2="85.0" y2="53.2" stroke="#3a362e" stroke-width="1"/>
<line x1="88.0" y1="45.8" x2="88.0" y2="53.2" stroke="#3a362e" stroke-width="1"/>
<line x1="91.0" y1="45.8" x2="91.0" y2="53.2" stroke="#3a362e" stroke-width="1"/>
<rect x="47.5" y="45" width="45" height="2" fill="#b4b0a4" opacity="0.8"/>
</g></g>
<polyline points="191.95,140.52 192.35,137.92 192.75,135.35 193.14,132.80 193.54,130.29 193.93,127.80 194.33,125.34 194.72,122.91 195.12,120.51 195.51,118.13 195.91,115.78 196.30,113.47 196.70,111.17 197.09,108.91 197.49,106.68 197.89,104.47 198.28,102.29 198.68,100.13 199.07,98.01 199.47,95.91 199.86,93.84 200.26,91.80 200.65,89.78 201.05,87.79 201.44,85.83 201.84,83.89 202.24,81.99 202.63,80.11 203.03,78.25 203.42,76.42 203.82,74.62 204.21,72.85 204.61,71.10 205.00,69.38 205.40,67.69 205.79,66.02 206.19,64.38 206.59,62.76 206.98,61.17 207.38,59.61 207.77,58.08 208.17,56.57 208.56,55.08 208.96,53.63 209.35,52.20 209.75,50.79 210.14,49.41 210.54,48.06 210.94,46.73 211.33,45.43 211.73,44.16 212.12,42.91 212.52,41.69 212.91,40.49 213.31,39.32 213.70,38.18 214.10,37.06 214.49,35.96 214.89,34.89 215.28,33.85 215.68,32.84 216.08,31.85 216.47,30.88 216.87,29.94 217.26,29.03 217.66,28.14 218.05,27.28 218.45,26.44 218.84,25.63 219.24,24.84 219.63,24.08 220.03,23.35 220.43,22.64 220.82,21.95 221.22,21.30 221.61,20.66 222.01,20.06 222.40,19.47 222.80,18.92 223.19,18.38 223.59,17.88 223.98,17.40 224.38,16.94 224.78,16.51 225.17,16.11 225.57,15.73 225.96,15.37 226.36,15.05 226.75,14.74 227.15,14.46 227.54,14.21 227.94,13.98 228.33,13.78 228.73,13.61 229.13,13.45 229.52,13.33 229.92,13.23 230.31,13.15 230.71,13.10 231.10,13.07 231.50,13.07 231.89,13.10 232.29,13.15 232.68,13.23 233.08,13.33 233.47,13.45 233.87,13.61 234.27,13.78 234.66,13.98 235.06,14.21 235.45,14.46 235.85,14.74 236.24,15.05 236.64,15.37 237.03,15.73 237.43,16.11 237.82,16.51 238.22,16.94 238.62,17.40 239.01,17.88 239.41,18.38 239.80,18.92 240.20,19.47 240.59,20.06 240.99,20.66 241.38,21.30 241.78,21.95 242.17,22.64 242.57,23.35 242.97,24.08 243.36,24.84 243.76,25.63 244.15,26.44 244.55,27.28 244.94,28.14 245.34,29.03 245.73,29.94 246.13,30.88 246.52,31.85 246.92,32.84 247.32,33.85 247.71,34.89 248.11,35.96 248.50,37.06 248.90,38.18 249.29,39.32 249.69,40.49 250.08,41.69 250.48,42.91 250.87,44.16 251.27,45.43 251.66,46.73 252.06,48.06 252.46,49.41 252.85,50.79 253.25,52.20 253.64,53.63 254.04,55.08 254.43,56.57 254.83,58.08 255.22,59.61 255.62,61.17 256.01,62.76 256.41,64.38 256.81,66.02 257.20,67.69 257.60,69.38 257.99,71.10 258.39,72.85 258.78,74.62 259.18,76.42 259.57,78.25 259.97,80.11 260.36,81.99 260.76,83.89 261.16,85.83 261.55,87.79 261.95,89.78 262.34,91.80 262.74,93.84 263.13,95.91 263.53,98.01 263.92,100.13 264.32,102.29 264.71,104.47 265.11,106.68 265.51,108.91 265.90,111.17 266.30,113.47 266.69,115.78 267.09,118.13 267.48,120.51 267.88,122.91 268.27,125.34 268.67,127.80 269.06,130.29 269.46,132.80 269.85,135.35 270.25,137.92 270.65,140.52" fill="none" stroke="#94c97a" stroke-width="2.2"/>
<circle cx="192.64" cy="136.03" r="2.6" fill="#000"/>
<circle cx="194.18" cy="126.25" r="2.6" fill="#000"/>
<circle cx="195.72" cy="116.91" r="2.6" fill="#000"/>
<circle cx="197.26" cy="107.98" r="2.6" fill="#000"/>
<circle cx="198.80" cy="99.48" r="2.6" fill="#000"/>
<circle cx="200.34" cy="91.39" r="2.6" fill="#000"/>
<circle cx="201.88" cy="83.71" r="2.6" fill="#000"/>
<circle cx="203.42" cy="76.44" r="2.6" fill="#000"/>
<circle cx="204.96" cy="69.58" r="2.6" fill="#000"/>
<circle cx="206.50" cy="63.12" r="2.6" fill="#000"/>
<circle cx="208.04" cy="57.06" r="2.6" fill="#000"/>
<circle cx="209.58" cy="51.40" r="2.6" fill="#000"/>
<circle cx="211.12" cy="46.13" r="2.6" fill="#000"/>
<circle cx="212.66" cy="41.26" r="2.6" fill="#000"/>
<circle cx="214.20" cy="36.78" r="2.6" fill="#000"/>
<circle cx="215.74" cy="32.70" r="2.6" fill="#000"/>
<circle cx="217.28" cy="29.00" r="2.6" fill="#000"/>
<circle cx="218.82" cy="25.69" r="2.6" fill="#000"/>
<circle cx="220.36" cy="22.76" r="2.6" fill="#000"/>
<circle cx="221.89" cy="20.23" r="2.6" fill="#000"/>
<circle cx="223.43" cy="18.07" r="2.6" fill="#000"/>
<circle cx="224.97" cy="16.31" r="2.6" fill="#000"/>
<circle cx="226.51" cy="14.92" r="2.6" fill="#000"/>
<circle cx="228.05" cy="13.92" r="2.6" fill="#000"/>
<circle cx="229.59" cy="13.31" r="2.6" fill="#000"/>
<circle cx="231.13" cy="13.07" r="2.6" fill="#000"/>
<circle cx="232.67" cy="13.22" r="2.6" fill="#000"/>
<circle cx="234.21" cy="13.76" r="2.6" fill="#000"/>
<circle cx="235.75" cy="14.67" r="2.6" fill="#000"/>
<circle cx="237.29" cy="15.97" r="2.6" fill="#000"/>
<circle cx="238.83" cy="17.66" r="2.6" fill="#000"/>
<circle cx="240.37" cy="19.73" r="2.6" fill="#000"/>
<circle cx="241.91" cy="22.18" r="2.6" fill="#000"/>
<circle cx="243.45" cy="25.02" r="2.6" fill="#000"/>
<circle cx="244.99" cy="28.25" r="2.6" fill="#000"/>
<circle cx="246.53" cy="31.86" r="2.6" fill="#000"/>
<circle cx="248.07" cy="35.87" r="2.6" fill="#000"/>
<circle cx="249.61" cy="40.26" r="2.6" fill="#000"/>
<circle cx="251.15" cy="45.05" r="2.6" fill="#000"/>
<circle cx="252.69" cy="50.23" r="2.6" fill="#000"/>
<circle cx="254.23" cy="55.80" r="2.6" fill="#000"/>
<circle cx="255.77" cy="61.78" r="2.6" fill="#000"/>
<circle cx="257.31" cy="68.15" r="2.6" fill="#000"/>
<circle cx="258.85" cy="74.93" r="2.6" fill="#000"/>
<circle cx="260.39" cy="82.11" r="2.6" fill="#000"/>
<circle cx="261.93" cy="89.69" r="2.6" fill="#000"/>
<circle cx="263.47" cy="97.69" r="2.6" fill="#000"/>
<circle cx="265.01" cy="106.11" r="2.6" fill="#000"/>
<circle cx="266.55" cy="114.94" r="2.6" fill="#000"/>
<circle cx="268.09" cy="124.20" r="2.6" fill="#000"/>
<circle cx="269.63" cy="133.88" r="2.6" fill="#000"/>
<rect x="188.3" y="6.2" width="86.80" height="138.90" fill="none" stroke="#6e6e6e" stroke-width="1.1"/>
<line x1="184.3" y1="124.80" x2="188.3" y2="124.80" stroke="#6e6e6e" stroke-width="1"/>
<text x="182.3" y="129.40" class="tk" text-anchor="end">4.0</text>
<line x1="184.3" y1="96.23" x2="188.3" y2="96.23" stroke="#6e6e6e" stroke-width="1"/>
<text x="182.3" y="100.83" class="tk" text-anchor="end">4.1</text>
<line x1="184.3" y1="67.65" x2="188.3" y2="67.65" stroke="#6e6e6e" stroke-width="1"/>
<text x="182.3" y="72.25" class="tk" text-anchor="end">4.2</text>
<line x1="184.3" y1="39.08" x2="188.3" y2="39.08" stroke="#6e6e6e" stroke-width="1"/>
<text x="182.3" y="43.68" class="tk" text-anchor="end">4.3</text>
<line x1="184.3" y1="10.50" x2="188.3" y2="10.50" stroke="#6e6e6e" stroke-width="1"/>
<text x="182.3" y="15.10" class="tk" text-anchor="end">4.4</text>
<line x1="192.15" y1="145.1" x2="192.15" y2="149.1" stroke="#6e6e6e" stroke-width="1"/>
<text x="192.15" y="161.1" class="tk" text-anchor="middle">−0.2</text>
<line x1="231.30" y1="145.1" x2="231.30" y2="149.1" stroke="#6e6e6e" stroke-width="1"/>
<text x="231.30" y="161.1" class="tk" text-anchor="middle">0.0</text>
<line x1="270.45" y1="145.1" x2="270.45" y2="149.1" stroke="#6e6e6e" stroke-width="1"/>
<text x="270.45" y="161.1" class="tk" text-anchor="middle">0.2</text>
<text x="230" y="175" class="lbl" text-anchor="middle">Flux <tspan class="sf">[Φ/Φ</tspan><tspan class="sf" style="font-size:8.5px" dy="2.2">0</tspan><tspan class="sf" dy="-2.2">]</tspan></text>
<text transform="translate(162,77) rotate(-90)" class="lbl" text-anchor="middle">Frequency [GHz]</text>
<polyline points="347.80,17.40 348.34,18.71 348.88,20.00 349.42,21.27 349.96,22.54 350.50,23.78 351.04,25.01 351.58,26.23 352.12,27.43 352.66,28.62 353.20,29.80 353.74,30.96 354.28,32.10 354.82,33.24 355.36,34.36 355.90,35.47 356.44,36.56 356.98,37.64 357.52,38.71 358.06,39.77 358.60,40.81 359.14,41.84 359.68,42.86 360.22,43.87 360.76,44.86 361.29,45.84 361.83,46.82 362.37,47.78 362.91,48.73 363.45,49.66 363.99,50.59 364.53,51.51 365.07,52.41 365.61,53.31 366.15,54.19 366.69,55.06 367.23,55.93 367.77,56.78 368.31,57.62 368.85,58.46 369.39,59.28 369.93,60.09 370.47,60.90 371.01,61.69 371.55,62.48 372.09,63.25 372.63,64.02 373.17,64.78 373.71,65.53 374.25,66.27 374.79,67.00 375.33,67.72 375.87,68.44 376.41,69.14 376.95,69.84 377.49,70.53 378.03,71.21 378.57,71.88 379.11,72.55 379.65,73.21 380.19,73.86 380.73,74.50 381.27,75.13 381.81,75.76 382.35,76.38 382.89,76.99 383.43,77.60 383.97,78.20 384.51,78.79 385.05,79.37 385.59,79.95 386.13,80.52 386.67,81.08 387.21,81.64 387.75,82.19 388.28,82.73 388.82,83.27 389.36,83.80 389.90,84.33 390.44,84.85 390.98,85.36 391.52,85.87 392.06,86.37 392.60,86.86 393.14,87.35 393.68,87.83 394.22,88.31 394.76,88.78 395.30,89.25 395.84,89.71 396.38,90.17 396.92,90.62 397.46,91.06 398.00,91.50 398.54,91.93 399.08,92.36 399.62,92.79 400.16,93.21 400.70,93.62 401.24,94.03 401.78,94.44 402.32,94.84 402.86,95.23 403.40,95.62 403.94,96.01 404.48,96.39 405.02,96.76 405.56,97.14 406.10,97.51 406.64,97.87 407.18,98.23 407.72,98.58 408.26,98.93 408.80,99.28 409.34,99.62 409.88,99.96 410.42,100.30 410.96,100.63 411.50,100.96 412.04,101.28 412.58,101.60 413.12,101.91 413.66,102.22 414.20,102.53 414.74,102.84 415.27,103.14 415.81,103.44 416.35,103.73 416.89,104.02 417.43,104.31 417.97,104.59 418.51,104.87 419.05,105.15 419.59,105.42 420.13,105.69 420.67,105.96 421.21,106.22 421.75,106.48 422.29,106.74 422.83,107.00 423.37,107.25 423.91,107.50 424.45,107.74 424.99,107.99 425.53,108.23 426.07,108.47 426.61,108.70 427.15,108.93 427.69,109.16 428.23,109.39 428.77,109.61 429.31,109.83 429.85,110.05 430.39,110.27 430.93,110.48 431.47,110.69 432.01,110.90 432.55,111.11 433.09,111.31 433.63,111.51 434.17,111.71 434.71,111.91 435.25,112.10 435.79,112.29 436.33,112.48 436.87,112.67 437.41,112.85 437.95,113.04 438.49,113.22 439.03,113.40 439.57,113.57 440.11,113.75 440.65,113.92 441.19,114.09 441.73,114.26 442.26,114.42 442.80,114.59 443.34,114.75 443.88,114.91 444.42,115.07 444.96,115.23 445.50,115.38 446.04,115.54 446.58,115.69 447.12,115.84 447.66,115.99 448.20,116.13 448.74,116.28 449.28,116.42 449.82,116.56 450.36,116.70 450.90,116.84 451.44,116.97 451.98,117.11 452.52,117.24 453.06,117.37 453.60,117.50 454.14,117.63 454.68,117.76 455.22,117.88 455.76,118.01 456.30,118.13 456.84,118.25 457.38,118.37 457.92,118.49 458.46,118.60 459.00,118.72 459.54,118.83 460.08,118.94 460.62,119.06 461.16,119.17 461.70,119.27 462.24,119.38 462.78,119.49 463.32,119.59 463.86,119.70 464.40,119.80 464.94,119.90 465.48,120.00 466.02,120.10 466.56,120.20 467.10,120.29 467.64,120.39 468.18,120.48 468.72,120.58 469.25,120.67 469.79,120.76 470.33,120.85 470.87,120.94 471.41,121.03 471.95,121.11 472.49,121.20 473.03,121.28 473.57,121.37 474.11,121.45 474.65,121.53 475.19,121.61 475.73,121.69 476.27,121.77 476.81,121.85 477.35,121.93 477.89,122.00 478.43,122.08 478.97,122.15 479.51,122.22 480.05,122.30 480.59,122.37 481.13,122.44 481.67,122.51 482.21,122.58 482.75,122.65 483.29,122.72 483.83,122.78 484.37,122.85 484.91,122.91 485.45,122.98 485.99,123.04 486.53,123.11 487.07,123.17 487.61,123.23 488.15,123.29 488.69,123.35 489.23,123.41 489.77,123.47 490.31,123.53 490.85,123.58 491.39,123.64 491.93,123.70 492.47,123.75 493.01,123.81 493.55,123.86 494.09,123.91 494.63,123.97 495.17,124.02 495.71,124.07 496.24,124.12 496.78,124.17 497.32,124.22 497.86,124.27 498.40,124.32 498.94,124.37 499.48,124.41 500.02,124.46 500.56,124.51 501.10,124.55 501.64,124.60 502.18,124.64 502.72,124.69 503.26,124.73 503.80,124.77 504.34,124.82 504.88,124.86 505.42,124.90 505.96,124.94 506.50,124.98 507.04,125.02 507.58,125.06 508.12,125.10 508.66,125.14 509.20,125.18" fill="none" stroke="#d9534f" stroke-width="2.6" opacity="0.9"/>
<polyline points="347.80,130.59 348.34,130.02 348.88,129.46 349.42,128.90 349.96,128.34 350.50,127.79 351.04,127.25 351.58,126.71 352.12,126.17 352.66,125.65 353.20,125.12 353.74,124.60 354.28,124.09 354.82,123.58 355.36,123.07 355.90,122.57 356.44,122.07 356.98,121.58 357.52,121.09 358.06,120.61 358.60,120.13 359.14,119.66 359.68,119.19 360.22,118.72 360.76,118.26 361.29,117.81 361.83,117.35 362.37,116.90 362.91,116.46 363.45,116.02 363.99,115.58 364.53,115.15 365.07,114.72 365.61,114.30 366.15,113.88 366.69,113.46 367.23,113.05 367.77,112.64 368.31,112.23 368.85,111.83 369.39,111.44 369.93,111.04 370.47,110.65 371.01,110.26 371.55,109.88 372.09,109.50 372.63,109.12 373.17,108.75 373.71,108.38 374.25,108.01 374.79,107.65 375.33,107.29 375.87,106.94 376.41,106.58 376.95,106.23 377.49,105.89 378.03,105.54 378.57,105.20 379.11,104.87 379.65,104.53 380.19,104.20 380.73,103.87 381.27,103.55 381.81,103.23 382.35,102.91 382.89,102.59 383.43,102.28 383.97,101.97 384.51,101.66 385.05,101.36 385.59,101.05 386.13,100.76 386.67,100.46 387.21,100.17 387.75,99.88 388.28,99.59 388.82,99.30 389.36,99.02 389.90,98.74 390.44,98.46 390.98,98.19 391.52,97.91 392.06,97.64 392.60,97.37 393.14,97.11 393.68,96.85 394.22,96.59 394.76,96.33 395.30,96.07 395.84,95.82 396.38,95.57 396.92,95.32 397.46,95.07 398.00,94.83 398.54,94.59 399.08,94.35 399.62,94.11 400.16,93.87 400.70,93.64 401.24,93.41 401.78,93.18 402.32,92.95 402.86,92.73 403.40,92.51 403.94,92.29 404.48,92.07 405.02,91.85 405.56,91.64 406.10,91.42 406.64,91.21 407.18,91.00 407.72,90.80 408.26,90.59 408.80,90.39 409.34,90.19 409.88,89.99 410.42,89.79 410.96,89.60 411.50,89.40 412.04,89.21 412.58,89.02 413.12,88.83 413.66,88.64 414.20,88.46 414.74,88.28 415.27,88.09 415.81,87.91 416.35,87.73 416.89,87.56 417.43,87.38 417.97,87.21 418.51,87.04 419.05,86.87 419.59,86.70 420.13,86.53 420.67,86.36 421.21,86.20 421.75,86.04 422.29,85.88 422.83,85.72 423.37,85.56 423.91,85.40 424.45,85.25 424.99,85.09 425.53,84.94 426.07,84.79 426.61,84.64 427.15,84.49 427.69,84.34 428.23,84.20 428.77,84.05 429.31,83.91 429.85,83.77 430.39,83.63 430.93,83.49 431.47,83.35 432.01,83.21 432.55,83.08 433.09,82.94 433.63,82.81 434.17,82.68 434.71,82.55 435.25,82.42 435.79,82.29 436.33,82.16 436.87,82.04 437.41,81.91 437.95,81.79 438.49,81.67 439.03,81.55 439.57,81.43 440.11,81.31 440.65,81.19 441.19,81.07 441.73,80.96 442.26,80.84 442.80,80.73 443.34,80.62 443.88,80.50 444.42,80.39 444.96,80.28 445.50,80.18 446.04,80.07 446.58,79.96 447.12,79.86 447.66,79.75 448.20,79.65 448.74,79.55 449.28,79.44 449.82,79.34 450.36,79.24 450.90,79.14 451.44,79.05 451.98,78.95 452.52,78.85 453.06,78.76 453.60,78.66 454.14,78.57 454.68,78.48 455.22,78.38 455.76,78.29 456.30,78.20 456.84,78.11 457.38,78.02 457.92,77.94 458.46,77.85 459.00,77.76 459.54,77.68 460.08,77.59 460.62,77.51 461.16,77.43 461.70,77.34 462.24,77.26 462.78,77.18 463.32,77.10 463.86,77.02 464.40,76.94 464.94,76.87 465.48,76.79 466.02,76.71 466.56,76.64 467.10,76.56 467.64,76.49 468.18,76.41 468.72,76.34 469.25,76.27 469.79,76.20 470.33,76.13 470.87,76.06 471.41,75.99 471.95,75.92 472.49,75.85 473.03,75.78 473.57,75.71 474.11,75.65 474.65,75.58 475.19,75.51 475.73,75.45 476.27,75.39 476.81,75.32 477.35,75.26 477.89,75.20 478.43,75.14 478.97,75.07 479.51,75.01 480.05,74.95 480.59,74.89 481.13,74.83 481.67,74.78 482.21,74.72 482.75,74.66 483.29,74.60 483.83,74.55 484.37,74.49 484.91,74.44 485.45,74.38 485.99,74.33 486.53,74.27 487.07,74.22 487.61,74.17 488.15,74.11 488.69,74.06 489.23,74.01 489.77,73.96 490.31,73.91 490.85,73.86 491.39,73.81 491.93,73.76 492.47,73.71 493.01,73.66 493.55,73.62 494.09,73.57 494.63,73.52 495.17,73.47 495.71,73.43 496.24,73.38 496.78,73.34 497.32,73.29 497.86,73.25 498.40,73.20 498.94,73.16 499.48,73.12 500.02,73.07 500.56,73.03 501.10,72.99 501.64,72.95 502.18,72.91 502.72,72.87 503.26,72.83 503.80,72.79 504.34,72.75 504.88,72.71 505.42,72.67 505.96,72.63 506.50,72.59 507.04,72.55 507.58,72.52 508.12,72.48 508.66,72.44 509.20,72.40" fill="none" stroke="#4452e6" stroke-width="2.6" opacity="0.9"/>
<circle cx="348.4" cy="14.7" r="2.7" fill="#000"/>
<circle cx="348.5" cy="16.5" r="2.7" fill="#000"/>
<circle cx="348.6" cy="18.5" r="2.7" fill="#000"/>
<circle cx="348.8" cy="20.5" r="2.7" fill="#000"/>
<circle cx="349.2" cy="22.5" r="2.7" fill="#000"/>
<circle cx="349.6" cy="24.6" r="2.7" fill="#000"/>
<circle cx="350.9" cy="30" r="2.7" fill="#000"/>
<circle cx="353.7" cy="39.2" r="2.7" fill="#000"/>
<circle cx="357.6" cy="45.7" r="2.7" fill="#000"/>
<circle cx="362.9" cy="52" r="2.7" fill="#000"/>
<circle cx="371.3" cy="61.8" r="2.7" fill="#000"/>
<circle cx="386.2" cy="76.3" r="2.7" fill="#000"/>
<circle cx="402.5" cy="94" r="2.7" fill="#000"/>
<circle cx="409.7" cy="98.4" r="2.7" fill="#000"/>
<circle cx="447.5" cy="114.8" r="2.7" fill="#000"/>
<circle cx="509.5" cy="126.7" r="2.7" fill="#000"/>
<circle cx="348.3" cy="132.2" r="2.7" fill="#000"/>
<circle cx="348.7" cy="131" r="2.7" fill="#000"/>
<circle cx="350.4" cy="130.1" r="2.7" fill="#000"/>
<circle cx="352.5" cy="128.9" r="2.7" fill="#000"/>
<circle cx="354.6" cy="129.7" r="2.7" fill="#000"/>
<circle cx="357.1" cy="123.9" r="2.7" fill="#000"/>
<circle cx="361.1" cy="118" r="2.7" fill="#000"/>
<circle cx="366.7" cy="114.6" r="2.7" fill="#000"/>
<circle cx="374.6" cy="109.6" r="2.7" fill="#000"/>
<circle cx="386.2" cy="100.9" r="2.7" fill="#000"/>
<circle cx="426.3" cy="84.2" r="2.7" fill="#000"/>
<circle cx="460.7" cy="79" r="2.7" fill="#000"/>
<circle cx="509.5" cy="71.6" r="2.7" fill="#000"/>
<rect x="340.5" y="5.5" width="177.00" height="139.70" fill="none" stroke="#6e6e6e" stroke-width="1.1"/>
<line x1="340.5" y1="132.90" x2="343.5" y2="132.90" stroke="#6e6e6e" stroke-width="1"/>
<line x1="514.5" y1="132.90" x2="517.5" y2="132.90" stroke="#6e6e6e" stroke-width="1"/>
<text x="337.5" y="137.50" class="tk" text-anchor="end">0.0</text>
<line x1="340.5" y1="75.15" x2="343.5" y2="75.15" stroke="#6e6e6e" stroke-width="1"/>
<line x1="514.5" y1="75.15" x2="517.5" y2="75.15" stroke="#6e6e6e" stroke-width="1"/>
<text x="337.5" y="79.75" class="tk" text-anchor="end">0.5</text>
<line x1="340.5" y1="17.40" x2="343.5" y2="17.40" stroke="#6e6e6e" stroke-width="1"/>
<line x1="514.5" y1="17.40" x2="517.5" y2="17.40" stroke="#6e6e6e" stroke-width="1"/>
<text x="337.5" y="22.00" class="tk" text-anchor="end">1.0</text>
<line x1="347.80" y1="145.2" x2="347.80" y2="142.2" stroke="#6e6e6e" stroke-width="1"/>
<line x1="347.80" y1="5.5" x2="347.80" y2="8.5" stroke="#6e6e6e" stroke-width="1"/>
<text x="347.80" y="157.5" class="tk" text-anchor="middle">0</text>
<line x1="412.36" y1="145.2" x2="412.36" y2="142.2" stroke="#6e6e6e" stroke-width="1"/>
<line x1="412.36" y1="5.5" x2="412.36" y2="8.5" stroke="#6e6e6e" stroke-width="1"/>
<text x="412.36" y="157.5" class="tk" text-anchor="middle">200</text>
<line x1="476.92" y1="145.2" x2="476.92" y2="142.2" stroke="#6e6e6e" stroke-width="1"/>
<line x1="476.92" y1="5.5" x2="476.92" y2="8.5" stroke="#6e6e6e" stroke-width="1"/>
<text x="476.92" y="157.5" class="tk" text-anchor="middle">400</text>
<line x1="368.5" y1="22.2" x2="396.8" y2="22.2" stroke="#4452e6" stroke-width="2.6"/>
<line x1="368.5" y1="41.2" x2="396.8" y2="41.2" stroke="#d9534f" stroke-width="2.6"/>
<text x="405" y="26.5" class="lg">T<tspan font-size="7.5" dy="3">2</tspan><tspan font-size="7" dx="-4.2" dy="-7">E</tspan><tspan dy="4">=181.5±11.1 </tspan><tspan class="mu">μs</tspan></text>
<text x="405" y="45.5" class="lg">T<tspan font-size="7.5" dy="3">1</tspan><tspan dy="-3">=141.2±12.2 </tspan><tspan class="mu">μs</tspan></text>
<text x="428" y="172" class="lbl" text-anchor="middle">t <tspan class="sf">[</tspan><tspan class="si" font-size="12">μ</tspan>s<tspan class="sf">]</tspan></text>
<text transform="translate(316.5,76.2) rotate(-90)" class="lbl" style="font-size:11px" text-anchor="middle">P<tspan class="ser" style="font-size:13.5px">(1)</tspan></text>
<polyline points="202.70,198.75 203.20,198.91 203.69,199.21 204.19,199.65 204.69,200.23 205.19,200.95 205.68,201.81 206.18,202.80 206.68,203.92 207.17,205.17 207.67,206.54 208.17,208.03 208.66,209.64 209.16,211.37 209.66,213.20 210.16,215.13 210.65,217.16 211.15,219.28 211.65,221.49 212.14,223.78 212.64,226.14 213.14,228.58 213.64,231.08 214.13,233.63 214.63,236.24 215.13,238.89 215.62,241.57 216.12,244.29 216.62,247.03 217.12,249.79 217.61,252.55 218.11,255.32 218.61,258.09 219.10,260.84 219.60,263.58 220.10,266.30 220.59,268.98 221.09,271.63 221.59,274.23 222.09,276.79 222.58,279.28 223.08,281.72 223.58,284.09 224.07,286.38 224.57,288.60 225.07,290.73 225.57,292.78 226.06,294.73 226.56,296.58 227.06,298.33 227.55,299.97 228.05,301.50 228.55,302.92 229.05,304.22 229.54,305.40 230.04,306.46 230.54,307.40 231.03,308.20 231.53,308.89 232.03,309.44 232.52,309.86 233.02,310.15 233.52,310.31 234.02,310.33 234.51,310.23 235.01,309.99 235.51,309.63 236.00,309.14 236.50,308.52 237.00,307.78 237.50,306.91 237.99,305.93 238.49,304.82 238.99,303.61 239.48,302.28 239.98,300.84 240.48,299.30 240.98,297.67 241.47,295.93 241.97,294.11 242.47,292.20 242.96,290.21 243.46,288.15 243.96,286.01 244.45,283.81 244.95,281.55 245.45,279.24 245.95,276.88 246.44,274.48 246.94,272.04 247.44,269.57 247.93,267.08 248.43,264.57 248.93,262.05 249.43,259.53 249.92,257.01 250.42,254.49 250.92,251.99 251.41,249.51 251.91,247.06 252.41,244.64 252.90,242.25 253.40,239.91 253.90,237.62 254.40,235.38 254.89,233.20 255.39,231.09 255.89,229.05 256.38,227.08 256.88,225.20 257.38,223.39 257.88,221.68 258.37,220.06 258.87,218.53 259.37,217.10 259.86,215.78 260.36,214.56 260.86,213.45 261.36,212.45 261.85,211.57 262.35,210.79 262.85,210.14 263.34,209.60 263.84,209.18 264.34,208.88 264.83,208.70 265.33,208.64 265.83,208.70 266.33,208.88 266.82,209.17 267.32,209.58 267.82,210.11 268.31,210.76 268.81,211.51 269.31,212.38 269.81,213.35 270.30,214.43 270.80,215.61 271.30,216.89 271.79,218.26 272.29,219.72 272.79,221.28 273.29,222.91 273.78,224.63 274.28,226.42 274.78,228.28 275.27,230.21 275.77,232.20 276.27,234.24 276.76,236.33 277.26,238.47 277.76,240.65 278.26,242.86 278.75,245.10 279.25,247.36 279.75,249.65 280.24,251.94 280.74,254.24 281.24,256.54 281.74,258.83 282.23,261.11 282.73,263.38 283.23,265.62 283.72,267.84 284.22,270.02 284.72,272.17 285.22,274.27 285.71,276.33 286.21,278.33 286.71,280.27 287.20,282.15 287.70,283.96 288.20,285.71 288.69,287.37 289.19,288.96 289.69,290.46 290.19,291.88 290.68,293.21 291.18,294.44 291.68,295.58 292.17,296.62 292.67,297.57 293.17,298.40 293.67,299.14 294.16,299.77 294.66,300.29 295.16,300.71 295.65,301.01 296.15,301.21 296.65,301.30 297.14,301.28 297.64,301.15 298.14,300.91 298.64,300.57 299.13,300.12 299.63,299.56 300.13,298.91 300.62,298.15 301.12,297.29 301.62,296.34 302.12,295.29 302.61,294.15 303.11,292.93 303.61,291.62 304.10,290.22 304.60,288.76 305.10,287.21 305.60,285.60 306.09,283.93 306.59,282.19 307.09,280.39 307.58,278.55 308.08,276.65 308.58,274.72 309.07,272.74 309.57,270.74 310.07,268.70 310.57,266.64 311.06,264.57 311.56,262.48 312.06,260.39 312.55,258.29 313.05,256.20 313.55,254.12 314.05,252.05 314.54,250.00 315.04,247.97 315.54,245.97 316.03,244.00 316.53,242.08 317.03,240.19 317.53,238.35 318.02,236.56 318.52,234.83 319.02,233.16 319.51,231.56 320.01,230.02 320.51,228.55 321.00,227.16 321.50,225.84 322.00,224.60 322.50,223.45 322.99,222.39 323.49,221.41 323.99,220.53 324.48,219.73 324.98,219.04 325.48,218.43 325.98,217.93 326.47,217.52 326.97,217.21 327.47,217.00 327.96,216.89 328.46,216.88 328.96,216.97 329.46,217.15 329.95,217.44 330.45,217.82 330.95,218.29 331.44,218.87 331.94,219.53 332.44,220.28 332.93,221.12 333.43,222.05 333.93,223.07 334.43,224.16 334.92,225.33 335.42,226.57 335.92,227.89 336.41,229.28 336.91,230.73 337.41,232.24 337.91,233.80 338.40,235.42 338.90,237.09 339.40,238.81 339.89,240.56 340.39,242.35 340.89,244.17 341.38,246.01 341.88,247.88 342.38,249.77 342.88,251.67 343.37,253.57 343.87,255.48 344.37,257.39 344.86,259.29 345.36,261.18 345.86,263.06 346.36,264.91 346.85,266.74 347.35,268.54 347.85,270.31 348.34,272.04 348.84,273.73 349.34,275.37 349.84,276.96 350.33,278.50 350.83,279.99 351.33,281.41 351.82,282.77 352.32,284.06 352.82,285.28 353.31,286.42 353.81,287.50 354.31,288.49 354.81,289.40 355.30,290.24 355.80,290.98 356.30,291.65 356.79,292.22 357.29,292.71 357.79,293.11 358.29,293.42 358.78,293.64 359.28,293.77 359.78,293.80 360.27,293.75 360.77,293.61 361.27,293.38 361.77,293.05 362.26,292.65 362.76,292.15 363.26,291.57 363.75,290.91 364.25,290.17 364.75,289.35 365.24,288.45 365.74,287.47 366.24,286.43 366.74,285.31 367.23,284.13 367.73,282.89 368.23,281.58 368.72,280.22 369.22,278.81 369.72,277.35 370.22,275.84 370.71,274.29 371.21,272.71 371.71,271.09 372.20,269.44 372.70,267.76 373.20,266.06 373.69,264.35 374.19,262.62 374.69,260.89 375.19,259.15 375.68,257.41 376.18,255.67 376.68,253.95 377.17,252.24 377.67,250.54 378.17,248.86 378.67,247.22 379.16,245.59 379.66,244.01 380.16,242.46 380.65,240.95 381.15,239.48 381.65,238.06 382.15,236.70 382.64,235.39 383.14,234.13 383.64,232.94 384.13,231.80 384.63,230.74 385.13,229.74 385.62,228.81 386.12,227.96 386.62,227.18 387.12,226.47 387.61,225.84 388.11,225.29 388.61,224.83 389.10,224.44 389.60,224.13 390.10,223.91 390.60,223.77 391.09,223.71 391.59,223.73 392.09,223.84 392.58,224.02 393.08,224.29 393.58,224.64 394.08,225.06 394.57,225.57 395.07,226.15 395.57,226.80 396.06,227.53 396.56,228.33 397.06,229.20 397.55,230.13 398.05,231.13 398.55,232.19 399.05,233.30 399.54,234.47 400.04,235.70 400.54,236.97 401.03,238.29 401.53,239.65 402.03,241.05 402.53,242.49 403.02,243.95 403.52,245.45 404.02,246.97 404.51,248.51 405.01,250.07 405.51,251.64 406.01,253.22 406.50,254.80 407.00,256.39 407.50,257.97 407.99,259.54 408.49,261.11 408.99,262.66 409.48,264.19 409.98,265.70 410.48,267.19 410.98,268.64 411.47,270.07 411.97,271.45 412.47,272.80 412.96,274.11 413.46,275.37 413.96,276.58 414.46,277.74 414.95,278.84 415.45,279.89 415.95,280.88 416.44,281.81 416.94,282.67 417.44,283.47 417.93,284.21 418.43,284.87 418.93,285.46 419.43,285.98 419.92,286.43 420.42,286.81 420.92,287.11 421.41,287.34 421.91,287.49 422.41,287.57 422.91,287.57 423.40,287.49 423.90,287.35 424.40,287.12 424.89,286.83 425.39,286.46 425.89,286.02 426.39,285.52 426.88,284.94 427.38,284.30 427.88,283.59 428.37,282.82 428.87,281.98 429.37,281.09 429.86,280.15 430.36,279.14 430.86,278.09 431.36,276.99 431.85,275.84 432.35,274.65 432.85,273.43 433.34,272.16 433.84,270.86 434.34,269.53 434.84,268.18 435.33,266.80 435.83,265.40 436.33,263.99 436.82,262.56 437.32,261.12 437.82,259.68 438.32,258.23 438.81,256.79 439.31,255.35 439.81,253.92 440.30,252.51 440.80,251.11 441.30,249.72 441.79,248.36 442.29,247.03 442.79,245.72 443.29,244.45 443.78,243.21 444.28,242.01 444.78,240.85 445.27,239.73 445.77,238.66 446.27,237.64 446.77,236.66 447.26,235.75 447.76,234.88 448.26,234.08 448.75,233.33 449.25,232.65 449.75,232.02 450.25,231.46 450.74,230.97 451.24,230.54 451.74,230.17 452.23,229.88 452.73,229.65 453.23,229.49 453.72,229.40 454.22,229.38 454.72,229.43 455.22,229.54 455.71,229.72 456.21,229.97 456.71,230.29 457.20,230.67 457.70,231.11 458.20,231.62 458.70,232.18 459.19,232.81 459.69,233.50 460.19,234.24 460.68,235.03 461.18,235.88 461.68,236.78 462.17,237.73 462.67,238.72 463.17,239.75 463.67,240.82 464.16,241.93 464.66,243.07 465.16,244.25 465.65,245.45 466.15,246.68 466.65,247.93 467.15,249.20 467.64,250.48 468.14,251.78 468.64,253.09 469.13,254.40 469.63,255.72 470.13,257.03 470.63,258.34 471.12,259.65 471.62,260.94 472.12,262.22 472.61,263.49 473.11,264.74 473.61,265.96 474.10,267.16 474.60,268.33 475.10,269.47 475.60,270.57 476.09,271.64 476.59,272.67 477.09,273.66 477.58,274.61 478.08,275.50 478.58,276.36 479.08,277.16 479.57,277.91 480.07,278.61 480.57,279.25 481.06,279.83 481.56,280.36 482.06,280.83 482.56,281.24 483.05,281.59 483.55,281.88 484.05,282.10 484.54,282.27 485.04,282.37 485.54,282.41 486.03,282.38 486.53,282.30 487.03,282.15 487.53,281.94 488.02,281.67 488.52,281.34 489.02,280.96 489.51,280.51 490.01,280.01 490.51,279.46 491.01,278.85 491.50,278.19 492.00,277.48 492.50,276.72 492.99,275.91 493.49,275.07 493.99,274.18 494.49,273.25 494.98,272.28 495.48,271.28 495.98,270.25 496.47,269.18 496.97,268.10 497.47,266.98 497.96,265.85 498.46,264.70 498.96,263.53 499.46,262.35 499.95,261.17 500.45,259.97" fill="none" stroke="#a8d8cc" stroke-width="1.1" stroke-dasharray="0.9 1.3"/>
<polyline points="202.70,198.75 203.20,198.92 203.69,199.27 204.19,199.79 204.69,200.48 205.19,201.33 205.68,202.36 206.18,203.54 206.68,204.88 207.17,206.37 207.67,208.01 208.17,209.79 208.66,211.71 209.16,213.75 209.66,215.93 210.16,218.22 210.65,220.61 211.15,223.12 211.65,225.71 212.14,228.39 212.64,231.15 213.14,233.98 213.64,236.87 214.13,239.82 214.63,242.80 215.13,245.82 215.62,248.87 216.12,251.93 216.62,255.00 217.12,258.06 217.61,261.11 218.11,264.15 218.61,267.15 219.10,270.11 219.60,273.03 220.10,275.89 220.59,278.68 221.09,281.40 221.59,284.05 222.09,286.60 222.58,289.06 223.08,291.41 223.58,293.66 224.07,295.79 224.57,297.79 225.07,299.67 225.57,301.42 226.06,303.03 226.56,304.50 227.06,305.82 227.55,306.99 228.05,308.01 228.55,308.87 229.05,309.57 229.54,310.12 230.04,310.51 230.54,310.73 231.03,310.80 231.53,310.70 232.03,310.44 232.52,310.03 233.02,309.46 233.52,308.73 234.02,307.85 234.51,306.82 235.01,305.64 235.51,304.33 236.00,302.87 236.50,301.29 237.00,299.57 237.50,297.73 237.99,295.78 238.49,293.72 238.99,291.55 239.48,289.29 239.98,286.94 240.48,284.50 240.98,281.99 241.47,279.42 241.97,276.78 242.47,274.09 242.96,271.36 243.46,268.60 243.96,265.81 244.45,263.00 244.95,260.18 245.45,257.36 245.95,254.55 246.44,251.75 246.94,248.98 247.44,246.24 247.93,243.55 248.43,240.90 248.93,238.30 249.43,235.78 249.92,233.32 250.42,230.94 250.92,228.64 251.41,226.44 251.91,224.34 252.41,222.34 252.90,220.45 253.40,218.68 253.90,217.02 254.40,215.49 254.89,214.09 255.39,212.83 255.89,211.70 256.38,210.71 256.88,209.86 257.38,209.15 257.88,208.59 258.37,208.18 258.87,207.92 259.37,207.80 259.86,207.83 260.36,208.01 260.86,208.33 261.36,208.81 261.85,209.42 262.35,210.17 262.85,211.07 263.34,212.09 263.84,213.25 264.34,214.54 264.83,215.95 265.33,217.49 265.83,219.13 266.33,220.88 266.82,222.74 267.32,224.70 267.82,226.74 268.31,228.87 268.81,231.08 269.31,233.36 269.81,235.71 270.30,238.11 270.80,240.56 271.30,243.06 271.79,245.59 272.29,248.14 272.79,250.72 273.29,253.31 273.78,255.90 274.28,258.49 274.78,261.06 275.27,263.62 275.77,266.15 276.27,268.64 276.76,271.10 277.26,273.50 277.76,275.85 278.26,278.14 278.75,280.35 279.25,282.49 279.75,284.55 280.24,286.52 280.74,288.39 281.24,290.17 281.74,291.84 282.23,293.41 282.73,294.86 283.23,296.19 283.72,297.40 284.22,298.49 284.72,299.45 285.22,300.28 285.71,300.98 286.21,301.55 286.71,301.98 287.20,302.28 287.70,302.44 288.20,302.46 288.69,302.35 289.19,302.10 289.69,301.72 290.19,301.21 290.68,300.56 291.18,299.79 291.68,298.90 292.17,297.88 292.67,296.74 293.17,295.48 293.67,294.12 294.16,292.65 294.66,291.07 295.16,289.40 295.65,287.64 296.15,285.79 296.65,283.86 297.14,281.86 297.64,279.79 298.14,277.65 298.64,275.47 299.13,273.23 299.63,270.95 300.13,268.64 300.62,266.30 301.12,263.93 301.62,261.56 302.12,259.18 302.61,256.80 303.11,254.42 303.61,252.07 304.10,249.73 304.60,247.43 305.10,245.15 305.60,242.93 306.09,240.75 306.59,238.62 307.09,236.56 307.58,234.57 308.08,232.65 308.58,230.80 309.07,229.05 309.57,227.38 310.07,225.80 310.57,224.33 311.06,222.95 311.56,221.68 312.06,220.53 312.55,219.48 313.05,218.55 313.55,217.74 314.05,217.05 314.54,216.48 315.04,216.04 315.54,215.72 316.03,215.52 316.53,215.45 317.03,215.50 317.53,215.68 318.02,215.99 318.52,216.41 319.02,216.95 319.51,217.62 320.01,218.40 320.51,219.29 321.00,220.30 321.50,221.41 322.00,222.62 322.50,223.94 322.99,225.35 323.49,226.85 323.99,228.44 324.48,230.11 324.98,231.85 325.48,233.67 325.98,235.55 326.47,237.49 326.97,239.48 327.47,241.52 327.96,243.60 328.46,245.71 328.96,247.86 329.46,250.02 329.95,252.20 330.45,254.39 330.95,256.57 331.44,258.76 331.94,260.93 332.44,263.09 332.93,265.22 333.43,267.32 333.93,269.38 334.43,271.40 334.92,273.38 335.42,275.29 335.92,277.15 336.41,278.95 336.91,280.67 337.41,282.31 337.91,283.88 338.40,285.36 338.90,286.75 339.40,288.05 339.89,289.26 340.39,290.36 340.89,291.36 341.38,292.26 341.88,293.05 342.38,293.72 342.88,294.29 343.37,294.74 343.87,295.08 344.37,295.31 344.86,295.42 345.36,295.41 345.86,295.29 346.36,295.06 346.85,294.71 347.35,294.25 347.85,293.69 348.34,293.01 348.84,292.23 349.34,291.35 349.84,290.36 350.33,289.28 350.83,288.11 351.33,286.85 351.82,285.50 352.32,284.07 352.82,282.56 353.31,280.99 353.81,279.34 354.31,277.64 354.81,275.88 355.30,274.06 355.80,272.20 356.30,270.31 356.79,268.37 357.29,266.41 357.79,264.43 358.29,262.43 358.78,260.43 359.28,258.41 359.78,256.40 360.27,254.40 360.77,252.41 361.27,250.45 361.77,248.50 362.26,246.59 362.76,244.72 363.26,242.89 363.75,241.10 364.25,239.38 364.75,237.70 365.24,236.10 365.74,234.55 366.24,233.09 366.74,231.69 367.23,230.38 367.73,229.15 368.23,228.01 368.72,226.96 369.22,226.00 369.72,225.14 370.22,224.38 370.71,223.72 371.21,223.16 371.71,222.70 372.20,222.35 372.70,222.10 373.20,221.96 373.69,221.92 374.19,221.99 374.69,222.16 375.19,222.44 375.68,222.82 376.18,223.31 376.68,223.89 377.17,224.57 377.67,225.34 378.17,226.21 378.67,227.17 379.16,228.22 379.66,229.35 380.16,230.56 380.65,231.84 381.15,233.20 381.65,234.62 382.15,236.11 382.64,237.66 383.14,239.26 383.64,240.90 384.13,242.60 384.63,244.33 385.13,246.09 385.62,247.88 386.12,249.70 386.62,251.53 387.12,253.37 387.61,255.22 388.11,257.07 388.61,258.91 389.10,260.75 389.60,262.56 390.10,264.36 390.60,266.13 391.09,267.86 391.59,269.56 392.09,271.22 392.58,272.83 393.08,274.38 393.58,275.89 394.08,277.33 394.57,278.70 395.07,280.01 395.57,281.25 396.06,282.41 396.56,283.49 397.06,284.48 397.55,285.40 398.05,286.22 398.55,286.96 399.05,287.60 399.54,288.16 400.04,288.61 400.54,288.98 401.03,289.24 401.53,289.41 402.03,289.48 402.53,289.46 403.02,289.33 403.52,289.11 404.02,288.80 404.51,288.39 405.01,287.89 405.51,287.30 406.01,286.62 406.50,285.86 407.00,285.01 407.50,284.08 407.99,283.07 408.49,281.99 408.99,280.83 409.48,279.61 409.98,278.33 410.48,276.98 410.98,275.58 411.47,274.13 411.97,272.63 412.47,271.09 412.96,269.51 413.46,267.90 413.96,266.26 414.46,264.60 414.95,262.92 415.45,261.23 415.95,259.54 416.44,257.84 416.94,256.14 417.44,254.45 417.93,252.77 418.43,251.12 418.93,249.48 419.43,247.87 419.92,246.30 420.42,244.76 420.92,243.26 421.41,241.81 421.91,240.41 422.41,239.07 422.91,237.78 423.40,236.55 423.90,235.39 424.40,234.30 424.89,233.27 425.39,232.33 425.89,231.46 426.39,230.67 426.88,229.96 427.38,229.33 427.88,228.79 428.37,228.34 428.87,227.97 429.37,227.69 429.86,227.50 430.36,227.40 430.86,227.39 431.36,227.47 431.85,227.63 432.35,227.89 432.85,228.23 433.34,228.66 433.84,229.17 434.34,229.76 434.84,230.43 435.33,231.18 435.83,232.01 436.33,232.91 436.82,233.88 437.32,234.91 437.82,236.01 438.32,237.17 438.81,238.39 439.31,239.66 439.81,240.97 440.30,242.33 440.80,243.74 441.30,245.17 441.79,246.64 442.29,248.14 442.79,249.66 443.29,251.19 443.78,252.74 444.28,254.30 444.78,255.86 445.27,257.42 445.77,258.98 446.27,260.53 446.77,262.06 447.26,263.57 447.76,265.06 448.26,266.52 448.75,267.94 449.25,269.33 449.75,270.68 450.25,271.99 450.74,273.25 451.24,274.45 451.74,275.60 452.23,276.69 452.73,277.72 453.23,278.69 453.72,279.59 454.22,280.41 454.72,281.17 455.22,281.85 455.71,282.46 456.21,282.98 456.71,283.43 457.20,283.80 457.70,284.09 458.20,284.29 458.70,284.42 459.19,284.46 459.69,284.42 460.19,284.30 460.68,284.10 461.18,283.81 461.68,283.45 462.17,283.01 462.67,282.50 463.17,281.91 463.67,281.24 464.16,280.51 464.66,279.71 465.16,278.85 465.65,277.92 466.15,276.93 466.65,275.88 467.15,274.79 467.64,273.64 468.14,272.45 468.64,271.21 469.13,269.94 469.63,268.63 470.13,267.29 470.63,265.92 471.12,264.54 471.62,263.13 472.12,261.71 472.61,260.28 473.11,258.84 473.61,257.41 474.10,255.98 474.60,254.55 475.10,253.14 475.60,251.74 476.09,250.36 476.59,249.01 477.09,247.69 477.58,246.40 478.08,245.14 478.58,243.92 479.08,242.75 479.57,241.62 480.07,240.55 480.57,239.52 481.06,238.55 481.56,237.64 482.06,236.79 482.56,236.01 483.05,235.29 483.55,234.63 484.05,234.05 484.54,233.54 485.04,233.10 485.54,232.73 486.03,232.44 486.53,232.22 487.03,232.07 487.53,232.01 488.02,232.01 488.52,232.10 489.02,232.25 489.51,232.48 490.01,232.79 490.51,233.16 491.01,233.61 491.50,234.13 492.00,234.71 492.50,235.36 492.99,236.07 493.49,236.84 493.99,237.68 494.49,238.56 494.98,239.50 495.48,240.49 495.98,241.53 496.47,242.61 496.97,243.73 497.47,244.89 497.96,246.08 498.46,247.30 498.96,248.55 499.46,249.82 499.95,251.10 500.45,252.40" fill="none" stroke="#20208a" stroke-width="1.1" stroke-dasharray="1 1.2"/>
<polyline points="202.70,198.75 203.20,199.01 203.69,199.42 204.19,199.99 204.69,200.71 205.19,201.58 205.68,202.60 206.18,203.76 206.68,205.06 207.17,206.49 207.67,208.05 208.17,209.73 208.66,211.54 209.16,213.45 209.66,215.48 210.16,217.60 210.65,219.82 211.15,222.13 211.65,224.52 212.14,226.98 212.64,229.51 213.14,232.10 213.64,234.74 214.13,237.43 214.63,240.15 215.13,242.90 215.62,245.68 216.12,248.47 216.62,251.26 217.12,254.06 217.61,256.85 218.11,259.62 218.61,262.36 219.10,265.08 219.60,267.75 220.10,270.38 220.59,272.96 221.09,275.48 221.59,277.94 222.09,280.32 222.58,282.63 223.08,284.85 223.58,286.98 224.07,289.02 224.57,290.96 225.07,292.79 225.57,294.52 226.06,296.13 226.56,297.63 227.06,299.01 227.55,300.27 228.05,301.40 228.55,302.40 229.05,303.28 229.54,304.02 230.04,304.63 230.54,305.11 231.03,305.45 231.53,305.66 232.03,305.74 232.52,305.68 233.02,305.49 233.52,305.17 234.02,304.73 234.51,304.15 235.01,303.45 235.51,302.63 236.00,301.69 236.50,300.64 237.00,299.47 237.50,298.19 237.99,296.81 238.49,295.33 238.99,293.76 239.48,292.09 239.98,290.34 240.48,288.51 240.98,286.61 241.47,284.64 241.97,282.60 242.47,280.51 242.96,278.37 243.46,276.18 243.96,273.95 244.45,271.69 244.95,269.41 245.45,267.10 245.95,264.79 246.44,262.46 246.94,260.14 247.44,257.82 247.93,255.52 248.43,253.23 248.93,250.97 249.43,248.73 249.92,246.54 250.42,244.39 250.92,242.28 251.41,240.23 251.91,238.23 252.41,236.30 252.90,234.44 253.40,232.65 253.90,230.94 254.40,229.32 254.89,227.77 255.39,226.32 255.89,224.96 256.38,223.69 256.88,222.53 257.38,221.46 257.88,220.50 258.37,219.65 258.87,218.90 259.37,218.26 259.86,217.73 260.36,217.31 260.86,217.00 261.36,216.80 261.85,216.72 262.35,216.74 262.85,216.88 263.34,217.12 263.84,217.47 264.34,217.93 264.83,218.49 265.33,219.15 265.83,219.91 266.33,220.77 266.82,221.72 267.32,222.77 267.82,223.90 268.31,225.11 268.81,226.40 269.31,227.77 269.81,229.21 270.30,230.72 270.80,232.29 271.30,233.92 271.79,235.60 272.29,237.33 272.79,239.11 273.29,240.92 273.78,242.76 274.28,244.63 274.78,246.53 275.27,248.44 275.77,250.37 276.27,252.30 276.76,254.23 277.26,256.16 277.76,258.08 278.26,259.98 278.75,261.87 279.25,263.73 279.75,265.56 280.24,267.36 280.74,269.12 281.24,270.83 281.74,272.50 282.23,274.12 282.73,275.67 283.23,277.17 283.72,278.61 284.22,279.98 284.72,281.27 285.22,282.50 285.71,283.65 286.21,284.71 286.71,285.70 287.20,286.60 287.70,287.42 288.20,288.15 288.69,288.79 289.19,289.34 289.69,289.80 290.19,290.16 290.68,290.44 291.18,290.62 291.68,290.71 292.17,290.71 292.67,290.61 293.17,290.43 293.67,290.16 294.16,289.79 294.66,289.35 295.16,288.81 295.65,288.19 296.15,287.50 296.65,286.72 297.14,285.87 297.64,284.94 298.14,283.95 298.64,282.89 299.13,281.76 299.63,280.57 300.13,279.33 300.62,278.04 301.12,276.69 301.62,275.30 302.12,273.87 302.61,272.40 303.11,270.90 303.61,269.38 304.10,267.82 304.60,266.25 305.10,264.66 305.60,263.07 306.09,261.46 306.59,259.85 307.09,258.25 307.58,256.65 308.08,255.07 308.58,253.49 309.07,251.94 309.57,250.42 310.07,248.92 310.57,247.45 311.06,246.01 311.56,244.62 312.06,243.27 312.55,241.96 313.05,240.70 313.55,239.50 314.05,238.35 314.54,237.26 315.04,236.23 315.54,235.26 316.03,234.36 316.53,233.53 317.03,232.77 317.53,232.07 318.02,231.45 318.52,230.91 319.02,230.43 319.51,230.04 320.01,229.72 320.51,229.47 321.00,229.30 321.50,229.21 322.00,229.20 322.50,229.26 322.99,229.40 323.49,229.61 323.99,229.90 324.48,230.26 324.98,230.69 325.48,231.19 325.98,231.75 326.47,232.39 326.97,233.08 327.47,233.84 327.96,234.66 328.46,235.53 328.96,236.45 329.46,237.43 329.95,238.45 330.45,239.52 330.95,240.63 331.44,241.78 331.94,242.96 332.44,244.18 332.93,245.42 333.43,246.68 333.93,247.97 334.43,249.27 334.92,250.59 335.42,251.92 335.92,253.25 336.41,254.59 336.91,255.92 337.41,257.25 337.91,258.57 338.40,259.88 338.90,261.17 339.40,262.45 339.89,263.70 340.39,264.93 340.89,266.13 341.38,267.29 341.88,268.42 342.38,269.52 342.88,270.57 343.37,271.58 343.87,272.54 344.37,273.46 344.86,274.33 345.36,275.14 345.86,275.90 346.36,276.61 346.85,277.25 347.35,277.84 347.85,278.37 348.34,278.84 348.84,279.24 349.34,279.58 349.84,279.86 350.33,280.08 350.83,280.23 351.33,280.32 351.82,280.34 352.32,280.30 352.82,280.20 353.31,280.04 353.81,279.81 354.31,279.52 354.81,279.18 355.30,278.77 355.80,278.31 356.30,277.80 356.79,277.23 357.29,276.61 357.79,275.94 358.29,275.23 358.78,274.47 359.28,273.66 359.78,272.82 360.27,271.94 360.77,271.02 361.27,270.08 361.77,269.10 362.26,268.09 362.76,267.07 363.26,266.02 363.75,264.95 364.25,263.87 364.75,262.78 365.24,261.67 365.74,260.57 366.24,259.46 366.74,258.35 367.23,257.24 367.73,256.14 368.23,255.05 368.72,253.97 369.22,252.91 369.72,251.87 370.22,250.84 370.71,249.84 371.21,248.87 371.71,247.92 372.20,247.00 372.70,246.12 373.20,245.27 373.69,244.47 374.19,243.70 374.69,242.97 375.19,242.28 375.68,241.64 376.18,241.04 376.68,240.50 377.17,240.00 377.67,239.55 378.17,239.15 378.67,238.80 379.16,238.51 379.66,238.27 380.16,238.08 380.65,237.94 381.15,237.86 381.65,237.82 382.15,237.85 382.64,237.92 383.14,238.05 383.64,238.22 384.13,238.45 384.63,238.73 385.13,239.06 385.62,239.43 386.12,239.85 386.62,240.31 387.12,240.82 387.61,241.37 388.11,241.95 388.61,242.58 389.10,243.24 389.60,243.93 390.10,244.66 390.60,245.41 391.09,246.20 391.59,247.01 392.09,247.84 392.58,248.69 393.08,249.56 393.58,250.44 394.08,251.34 394.57,252.24 395.07,253.16 395.57,254.08 396.06,255.00 396.56,255.92 397.06,256.84 397.55,257.76 398.05,258.67 398.55,259.57 399.05,260.45 399.54,261.32 400.04,262.18 400.54,263.01 401.03,263.83 401.53,264.62 402.03,265.39 402.53,266.13 403.02,266.84 403.52,267.52 404.02,268.16 404.51,268.78 405.01,269.35 405.51,269.89 406.01,270.40 406.50,270.86 407.00,271.28 407.50,271.66 407.99,272.00 408.49,272.30 408.99,272.56 409.48,272.77 409.98,272.93 410.48,273.06 410.98,273.13 411.47,273.17 411.97,273.16 412.47,273.11 412.96,273.01 413.46,272.87 413.96,272.69 414.46,272.47 414.95,272.20 415.45,271.90 415.95,271.56 416.44,271.18 416.94,270.77 417.44,270.32 417.93,269.84 418.43,269.33 418.93,268.78 419.43,268.21 419.92,267.61 420.42,266.99 420.92,266.34 421.41,265.67 421.91,264.99 422.41,264.28 422.91,263.56 423.40,262.83 423.90,262.09 424.40,261.34 424.89,260.58 425.39,259.81 425.89,259.05 426.39,258.28 426.88,257.51 427.38,256.75 427.88,255.99 428.37,255.25 428.87,254.51 429.37,253.78 429.86,253.07 430.36,252.37 430.86,251.69 431.36,251.02 431.85,250.38 432.35,249.76 432.85,249.17 433.34,248.60 433.84,248.05 434.34,247.54 434.84,247.05 435.33,246.60 435.83,246.17 436.33,245.78 436.82,245.42 437.32,245.10 437.82,244.81 438.32,244.56 438.81,244.34 439.31,244.15 439.81,244.01 440.30,243.90 440.80,243.83 441.30,243.79 441.79,243.79 442.29,243.83 442.79,243.90 443.29,244.01 443.78,244.15 444.28,244.33 444.78,244.54 445.27,244.79 445.77,245.06 446.27,245.37 446.77,245.71 447.26,246.08 447.76,246.47 448.26,246.89 448.75,247.34 449.25,247.81 449.75,248.31 450.25,248.82 450.74,249.35 451.24,249.91 451.74,250.47 452.23,251.06 452.73,251.65 453.23,252.26 453.72,252.87 454.22,253.50 454.72,254.13 455.22,254.76 455.71,255.40 456.21,256.04 456.71,256.68 457.20,257.31 457.70,257.94 458.20,258.56 458.70,259.18 459.19,259.79 459.69,260.38 460.19,260.96 460.68,261.53 461.18,262.09 461.68,262.62 462.17,263.14 462.67,263.64 463.17,264.12 463.67,264.58 464.16,265.01 464.66,265.42 465.16,265.80 465.65,266.16 466.15,266.49 466.65,266.79 467.15,267.07 467.64,267.32 468.14,267.53 468.64,267.72 469.13,267.88 469.63,268.01 470.13,268.10 470.63,268.17 471.12,268.21 471.62,268.21 472.12,268.19 472.61,268.13 473.11,268.05 473.61,267.93 474.10,267.79 474.60,267.62 475.10,267.42 475.60,267.20 476.09,266.95 476.59,266.67 477.09,266.37 477.58,266.05 478.08,265.70 478.58,265.33 479.08,264.95 479.57,264.54 480.07,264.12 480.57,263.68 481.06,263.22 481.56,262.75 482.06,262.27 482.56,261.78 483.05,261.27 483.55,260.76 484.05,260.24 484.54,259.72 485.04,259.19 485.54,258.67 486.03,258.13 486.53,257.61 487.03,257.08 487.53,256.55 488.02,256.03 488.52,255.52 489.02,255.01 489.51,254.52 490.01,254.03 490.51,253.55 491.01,253.09 491.50,252.64 492.00,252.21 492.50,251.79 492.99,251.39 493.49,251.01 493.99,250.64 494.49,250.30 494.98,249.97 495.48,249.67 495.98,249.39 496.47,249.14 496.97,248.90 497.47,248.69 497.96,248.51 498.46,248.35 498.96,248.21 499.46,248.10 499.95,248.01 500.45,247.95" fill="none" stroke="#bdbdbd" stroke-width="2.4"/>
<polyline points="202.70,198.75 203.20,198.92 203.69,199.24 204.19,199.72 204.69,200.35 205.19,201.14 205.68,202.08 206.18,203.17 206.68,204.40 207.17,205.77 207.67,207.27 208.17,208.91 208.66,210.68 209.16,212.56 209.66,214.56 210.16,216.67 210.65,218.89 211.15,221.20 211.65,223.60 212.14,226.09 212.64,228.65 213.14,231.28 213.64,233.98 214.13,236.72 214.63,239.52 215.13,242.35 215.62,245.22 216.12,248.11 216.62,251.01 217.12,253.92 217.61,256.83 218.11,259.73 218.61,262.62 219.10,265.48 219.60,268.30 220.10,271.09 220.59,273.83 221.09,276.52 221.59,279.14 222.09,281.69 222.58,284.17 223.08,286.57 223.58,288.87 224.07,291.08 224.57,293.20 225.07,295.20 225.57,297.10 226.06,298.88 226.56,300.54 227.06,302.07 227.55,303.48 228.05,304.75 228.55,305.89 229.05,306.90 229.54,307.76 230.04,308.48 230.54,309.06 231.03,309.50 231.53,309.79 232.03,309.94 232.52,309.94 233.02,309.80 233.52,309.52 234.02,309.09 234.51,308.52 235.01,307.82 235.51,306.98 236.00,306.01 236.50,304.90 237.00,303.67 237.50,302.32 237.99,300.85 238.49,299.27 238.99,297.58 239.48,295.78 239.98,293.89 240.48,291.90 240.98,289.83 241.47,287.67 241.97,285.45 242.47,283.15 242.96,280.79 243.46,278.37 243.96,275.91 244.45,273.41 244.95,270.87 245.45,268.30 245.95,265.71 246.44,263.12 246.94,260.51 247.44,257.91 247.93,255.31 248.43,252.74 248.93,250.18 249.43,247.65 249.92,245.16 250.42,242.72 250.92,240.32 251.41,237.98 251.91,235.70 252.41,233.49 252.90,231.35 253.40,229.29 253.90,227.32 254.40,225.44 254.89,223.65 255.39,221.96 255.89,220.37 256.38,218.89 256.88,217.53 257.38,216.27 257.88,215.14 258.37,214.12 258.87,213.22 259.37,212.45 259.86,211.81 260.36,211.29 260.86,210.89 261.36,210.63 261.85,210.49 262.35,210.48 262.85,210.60 263.34,210.85 263.84,211.22 264.34,211.71 264.83,212.33 265.33,213.06 265.83,213.91 266.33,214.88 266.82,215.96 267.32,217.14 267.82,218.43 268.31,219.81 268.81,221.30 269.31,222.87 269.81,224.53 270.30,226.27 270.80,228.09 271.30,229.97 271.79,231.92 272.29,233.93 272.79,236.00 273.29,238.11 273.78,240.26 274.28,242.45 274.78,244.67 275.27,246.91 275.77,249.17 276.27,251.44 276.76,253.72 277.26,255.99 277.76,258.25 278.26,260.50 278.75,262.73 279.25,264.93 279.75,267.10 280.24,269.23 280.74,271.32 281.24,273.35 281.74,275.34 282.23,277.26 282.73,279.12 283.23,280.91 283.72,282.62 284.22,284.26 284.72,285.81 285.22,287.28 285.71,288.65 286.21,289.94 286.71,291.13 287.20,292.21 287.70,293.20 288.20,294.08 288.69,294.86 289.19,295.53 289.69,296.09 290.19,296.54 290.68,296.89 291.18,297.12 291.68,297.24 292.17,297.25 292.67,297.15 293.17,296.94 293.67,296.63 294.16,296.21 294.66,295.68 295.16,295.05 295.65,294.33 296.15,293.50 296.65,292.58 297.14,291.57 297.64,290.47 298.14,289.28 298.64,288.02 299.13,286.67 299.63,285.26 300.13,283.77 300.62,282.22 301.12,280.61 301.62,278.95 302.12,277.23 302.61,275.47 303.11,273.68 303.61,271.84 304.10,269.98 304.60,268.09 305.10,266.18 305.60,264.26 306.09,262.34 306.59,260.41 307.09,258.48 307.58,256.56 308.08,254.65 308.58,252.76 309.07,250.89 309.57,249.06 310.07,247.25 310.57,245.49 311.06,243.76 311.56,242.08 312.06,240.46 312.55,238.89 313.05,237.38 313.55,235.93 314.05,234.55 314.54,233.24 315.04,232.00 315.54,230.84 316.03,229.76 316.53,228.76 317.03,227.85 317.53,227.02 318.02,226.28 318.52,225.62 319.02,225.06 319.51,224.59 320.01,224.21 320.51,223.92 321.00,223.73 321.50,223.62 322.00,223.61 322.50,223.70 322.99,223.87 323.49,224.13 323.99,224.48 324.48,224.92 324.98,225.44 325.48,226.05 325.98,226.74 326.47,227.50 326.97,228.34 327.47,229.26 327.96,230.24 328.46,231.30 328.96,232.41 329.46,233.59 329.95,234.82 330.45,236.10 330.95,237.43 331.44,238.81 331.94,240.23 332.44,241.68 332.93,243.17 333.43,244.69 333.93,246.22 334.43,247.78 334.92,249.35 335.42,250.93 335.92,252.52 336.41,254.11 336.91,255.70 337.41,257.28 337.91,258.84 338.40,260.39 338.90,261.92 339.40,263.43 339.89,264.91 340.39,266.35 340.89,267.76 341.38,269.14 341.88,270.46 342.38,271.75 342.88,272.98 343.37,274.16 343.87,275.28 344.37,276.35 344.86,277.35 345.36,278.30 345.86,279.17 346.36,279.98 346.85,280.73 347.35,281.40 347.85,282.00 348.34,282.53 348.84,282.98 349.34,283.36 349.84,283.66 350.33,283.89 350.83,284.05 351.33,284.13 351.82,284.13 352.32,284.06 352.82,283.92 353.31,283.71 353.81,283.42 354.31,283.06 354.81,282.64 355.30,282.15 355.80,281.59 356.30,280.98 356.79,280.30 357.29,279.56 357.79,278.77 358.29,277.93 358.78,277.03 359.28,276.09 359.78,275.10 360.27,274.08 360.77,273.01 361.27,271.91 361.77,270.78 362.26,269.62 362.76,268.44 363.26,267.23 363.75,266.01 364.25,264.77 364.75,263.52 365.24,262.27 365.74,261.01 366.24,259.76 366.74,258.50 367.23,257.26 367.73,256.02 368.23,254.80 368.72,253.59 369.22,252.41 369.72,251.25 370.22,250.11 370.71,249.01 371.21,247.93 371.71,246.89 372.20,245.89 372.70,244.93 373.20,244.01 373.69,243.13 374.19,242.31 374.69,241.53 375.19,240.80 375.68,240.12 376.18,239.49 376.68,238.92 377.17,238.40 377.67,237.94 378.17,237.54 378.67,237.19 379.16,236.91 379.66,236.68 380.16,236.51 380.65,236.39 381.15,236.34 381.65,236.34 382.15,236.40 382.64,236.52 383.14,236.69 383.64,236.92 384.13,237.20 384.63,237.53 385.13,237.92 385.62,238.35 386.12,238.83 386.62,239.35 387.12,239.92 387.61,240.53 388.11,241.18 388.61,241.87 389.10,242.59 389.60,243.35 390.10,244.13 390.60,244.95 391.09,245.78 391.59,246.65 392.09,247.53 392.58,248.42 393.08,249.34 393.58,250.26 394.08,251.20 394.57,252.14 395.07,253.08 395.57,254.03 396.06,254.97 396.56,255.91 397.06,256.84 397.55,257.76 398.05,258.68 398.55,259.57 399.05,260.45 399.54,261.32 400.04,262.16 400.54,262.97 401.03,263.77 401.53,264.53 402.03,265.27 402.53,265.97 403.02,266.64 403.52,267.28 404.02,267.89 404.51,268.45 405.01,268.98 405.51,269.47 406.01,269.92 406.50,270.33 407.00,270.70 407.50,271.02 407.99,271.31 408.49,271.55 408.99,271.75 409.48,271.90 409.98,272.01 410.48,272.08 410.98,272.11 411.47,272.10 411.97,272.04 412.47,271.94 412.96,271.81 413.46,271.63 413.96,271.42 414.46,271.17 414.95,270.88 415.45,270.56 415.95,270.21 416.44,269.82 416.94,269.41 417.44,268.96 417.93,268.49 418.43,267.99 418.93,267.47 419.43,266.93 419.92,266.37 420.42,265.78 420.92,265.19 421.41,264.58 421.91,263.95 422.41,263.32 422.91,262.67 423.40,262.02 423.90,261.37 424.40,260.71 424.89,260.05 425.39,259.39 425.89,258.74 426.39,258.09 426.88,257.45 427.38,256.81 427.88,256.19 428.37,255.58 428.87,254.98 429.37,254.39 429.86,253.82 430.36,253.27 430.86,252.74 431.36,252.23 431.85,251.74 432.35,251.27 432.85,250.83 433.34,250.41 433.84,250.01 434.34,249.65 434.84,249.31 435.33,248.99 435.83,248.71 436.33,248.45 436.82,248.22 437.32,248.02 437.82,247.85 438.32,247.70 438.81,247.59 439.31,247.51 439.81,247.45 440.30,247.42 440.80,247.42 441.30,247.45 441.79,247.50 442.29,247.58 442.79,247.69 443.29,247.82 443.78,247.98 444.28,248.15 444.78,248.35 445.27,248.58 445.77,248.82 446.27,249.08 446.77,249.36 447.26,249.66 447.76,249.97 448.26,250.30 448.75,250.64 449.25,250.99 449.75,251.35 450.25,251.73 450.74,252.11 451.24,252.50 451.74,252.89 452.23,253.29 452.73,253.69 453.23,254.09 453.72,254.49 454.22,254.90 454.72,255.30 455.22,255.70 455.71,256.09 456.21,256.48 456.71,256.86 457.20,257.23 457.70,257.60 458.20,257.96 458.70,258.30 459.19,258.64 459.69,258.96 460.19,259.27 460.68,259.57 461.18,259.85 461.68,260.12 462.17,260.37 462.67,260.61 463.17,260.83 463.67,261.03 464.16,261.22 464.66,261.39 465.16,261.55 465.65,261.68 466.15,261.80 466.65,261.91 467.15,261.99 467.64,262.06 468.14,262.11 468.64,262.15 469.13,262.17 469.63,262.17 470.13,262.16 470.63,262.13 471.12,262.09 471.62,262.04 472.12,261.97 472.61,261.88 473.11,261.79 473.61,261.68 474.10,261.57 474.60,261.44 475.10,261.30 475.60,261.16 476.09,261.00 476.59,260.84 477.09,260.67 477.58,260.50 478.08,260.32 478.58,260.14 479.08,259.95 479.57,259.77 480.07,259.58 480.57,259.38 481.06,259.19 481.56,259.00 482.06,258.81 482.56,258.62 483.05,258.44 483.55,258.26 484.05,258.08 484.54,257.90 485.04,257.73 485.54,257.57 486.03,257.41 486.53,257.26 487.03,257.11 487.53,256.97 488.02,256.84 488.52,256.72 489.02,256.61 489.51,256.50 490.01,256.40 490.51,256.31 491.01,256.23 491.50,256.16 492.00,256.09 492.50,256.04 492.99,255.99 493.49,255.96 493.99,255.93 494.49,255.90 494.98,255.89 495.48,255.89 495.98,255.89 496.47,255.90 496.97,255.91 497.47,255.94 497.96,255.97 498.46,256.00 498.96,256.04 499.46,256.08 499.95,256.13 500.45,256.19" fill="none" stroke="#4c5ae2" stroke-width="2.6"/>
<circle cx="202.70" cy="200.85" r="2.2" fill="#10103a"/>
<circle cx="206.27" cy="202.60" r="2.2" fill="#10103a"/>
<circle cx="209.85" cy="216.26" r="2.2" fill="#10103a"/>
<circle cx="213.42" cy="231.09" r="2.2" fill="#10103a"/>
<circle cx="216.99" cy="253.39" r="2.2" fill="#10103a"/>
<circle cx="220.56" cy="270.20" r="2.2" fill="#10103a"/>
<circle cx="224.14" cy="289.70" r="2.2" fill="#10103a"/>
<circle cx="227.71" cy="305.23" r="2.2" fill="#10103a"/>
<circle cx="231.28" cy="308.73" r="2.2" fill="#10103a"/>
<circle cx="234.86" cy="311.06" r="2.2" fill="#10103a"/>
<circle cx="238.43" cy="298.45" r="2.2" fill="#10103a"/>
<circle cx="242.00" cy="288.76" r="2.2" fill="#10103a"/>
<circle cx="245.58" cy="267.17" r="2.2" fill="#10103a"/>
<circle cx="249.15" cy="251.99" r="2.2" fill="#10103a"/>
<circle cx="252.72" cy="235.18" r="2.2" fill="#10103a"/>
<circle cx="256.29" cy="225.25" r="2.2" fill="#10103a"/>
<circle cx="259.87" cy="212.64" r="2.2" fill="#10103a"/>
<circle cx="263.44" cy="211.83" r="2.2" fill="#10103a"/>
<circle cx="267.01" cy="216.85" r="2.2" fill="#10103a"/>
<circle cx="270.59" cy="226.30" r="2.2" fill="#10103a"/>
<circle cx="274.16" cy="243.58" r="2.2" fill="#10103a"/>
<circle cx="277.73" cy="255.37" r="2.2" fill="#10103a"/>
<circle cx="281.31" cy="269.38" r="2.2" fill="#10103a"/>
<circle cx="284.88" cy="286.78" r="2.2" fill="#10103a"/>
<circle cx="288.45" cy="294.02" r="2.2" fill="#10103a"/>
<circle cx="292.02" cy="297.75" r="2.2" fill="#10103a"/>
<circle cx="295.60" cy="294.49" r="2.2" fill="#10103a"/>
<circle cx="299.17" cy="284.79" r="2.2" fill="#10103a"/>
<circle cx="302.74" cy="277.21" r="2.2" fill="#10103a"/>
<circle cx="306.32" cy="260.04" r="2.2" fill="#10103a"/>
<circle cx="309.89" cy="245.45" r="2.2" fill="#10103a"/>
<circle cx="313.46" cy="234.36" r="2.2" fill="#10103a"/>
<circle cx="317.04" cy="229.34" r="2.2" fill="#10103a"/>
<circle cx="320.61" cy="223.03" r="2.2" fill="#10103a"/>
<circle cx="324.18" cy="223.38" r="2.2" fill="#10103a"/>
<circle cx="327.75" cy="225.49" r="2.2" fill="#10103a"/>
<circle cx="331.33" cy="239.15" r="2.2" fill="#10103a"/>
<circle cx="334.90" cy="250.59" r="2.2" fill="#10103a"/>
<circle cx="338.47" cy="260.74" r="2.2" fill="#10103a"/>
<circle cx="342.05" cy="276.86" r="2.2" fill="#10103a"/>
<circle cx="345.62" cy="282.46" r="2.2" fill="#10103a"/>
<circle cx="349.19" cy="288.41" r="2.2" fill="#10103a"/>
<circle cx="352.77" cy="286.31" r="2.2" fill="#10103a"/>
<circle cx="356.34" cy="285.14" r="2.2" fill="#10103a"/>
<circle cx="359.91" cy="278.84" r="2.2" fill="#10103a"/>
<circle cx="363.49" cy="266.47" r="2.2" fill="#10103a"/>
<circle cx="367.06" cy="261.09" r="2.2" fill="#10103a"/>
<circle cx="370.63" cy="248.49" r="2.2" fill="#10103a"/>
<circle cx="374.20" cy="241.83" r="2.2" fill="#10103a"/>
<circle cx="377.78" cy="238.56" r="2.2" fill="#10103a"/>
<circle cx="381.35" cy="234.01" r="2.2" fill="#10103a"/>
<circle cx="384.92" cy="237.04" r="2.2" fill="#10103a"/>
<circle cx="388.50" cy="241.83" r="2.2" fill="#10103a"/>
<circle cx="392.07" cy="246.73" r="2.2" fill="#10103a"/>
<circle cx="395.64" cy="250.35" r="2.2" fill="#10103a"/>
<circle cx="399.22" cy="261.21" r="2.2" fill="#10103a"/>
<circle cx="402.79" cy="261.80" r="2.2" fill="#10103a"/>
<circle cx="406.36" cy="266.35" r="2.2" fill="#10103a"/>
<circle cx="409.93" cy="270.32" r="2.2" fill="#10103a"/>
<circle cx="413.51" cy="267.63" r="2.2" fill="#10103a"/>
<circle cx="417.08" cy="264.95" r="2.2" fill="#10103a"/>
<circle cx="420.65" cy="262.50" r="2.2" fill="#10103a"/>
<circle cx="424.23" cy="263.55" r="2.2" fill="#10103a"/>
<circle cx="427.80" cy="259.46" r="2.2" fill="#10103a"/>
<circle cx="431.37" cy="256.66" r="2.2" fill="#10103a"/>
<circle cx="434.94" cy="257.48" r="2.2" fill="#10103a"/>
<circle cx="438.52" cy="251.17" r="2.2" fill="#10103a"/>
<circle cx="442.09" cy="254.09" r="2.2" fill="#10103a"/>
<circle cx="445.66" cy="250.47" r="2.2" fill="#10103a"/>
<circle cx="449.24" cy="253.62" r="2.2" fill="#10103a"/>
<circle cx="452.81" cy="255.37" r="2.2" fill="#10103a"/>
<circle cx="456.38" cy="257.12" r="2.2" fill="#10103a"/>
<circle cx="459.96" cy="258.64" r="2.2" fill="#10103a"/>
<circle cx="463.53" cy="260.28" r="2.2" fill="#10103a"/>
<circle cx="467.10" cy="259.46" r="2.2" fill="#10103a"/>
<circle cx="470.68" cy="258.06" r="2.2" fill="#10103a"/>
<circle cx="474.25" cy="262.96" r="2.2" fill="#10103a"/>
<circle cx="477.82" cy="256.54" r="2.2" fill="#10103a"/>
<circle cx="481.39" cy="257.12" r="2.2" fill="#10103a"/>
<circle cx="484.97" cy="258.64" r="2.2" fill="#10103a"/>
<circle cx="488.54" cy="253.16" r="2.2" fill="#10103a"/>
<circle cx="492.11" cy="255.37" r="2.2" fill="#10103a"/>
<circle cx="495.69" cy="252.34" r="2.2" fill="#10103a"/>
<circle cx="499.26" cy="254.09" r="2.2" fill="#10103a"/>
<rect x="188.5" y="187.5" width="329.50" height="139.00" fill="none" stroke="#6e6e6e" stroke-width="1.1"/>
<line x1="188.5" y1="315.50" x2="192.0" y2="315.50" stroke="#6e6e6e" stroke-width="1"/>
<line x1="514.5" y1="315.50" x2="518" y2="315.50" stroke="#6e6e6e" stroke-width="1"/>
<text x="185.5" y="320.10" class="tk" text-anchor="end">0.0</text>
<line x1="188.5" y1="257.12" x2="192.0" y2="257.12" stroke="#6e6e6e" stroke-width="1"/>
<line x1="514.5" y1="257.12" x2="518" y2="257.12" stroke="#6e6e6e" stroke-width="1"/>
<text x="185.5" y="261.73" class="tk" text-anchor="end">0.5</text>
<line x1="188.5" y1="198.75" x2="192.0" y2="198.75" stroke="#6e6e6e" stroke-width="1"/>
<line x1="514.5" y1="198.75" x2="518" y2="198.75" stroke="#6e6e6e" stroke-width="1"/>
<text x="185.5" y="203.35" class="tk" text-anchor="end">1.0</text>
<line x1="202.70" y1="326.5" x2="202.70" y2="323.0" stroke="#6e6e6e" stroke-width="1"/>
<line x1="202.70" y1="187.5" x2="202.70" y2="191.0" stroke="#6e6e6e" stroke-width="1"/>
<text x="202.70" y="339.0" class="tk" text-anchor="middle">0</text>
<line x1="262.25" y1="326.5" x2="262.25" y2="323.0" stroke="#6e6e6e" stroke-width="1"/>
<line x1="262.25" y1="187.5" x2="262.25" y2="191.0" stroke="#6e6e6e" stroke-width="1"/>
<text x="262.25" y="339.0" class="tk" text-anchor="middle">5</text>
<line x1="321.80" y1="326.5" x2="321.80" y2="323.0" stroke="#6e6e6e" stroke-width="1"/>
<line x1="321.80" y1="187.5" x2="321.80" y2="191.0" stroke="#6e6e6e" stroke-width="1"/>
<text x="321.80" y="339.0" class="tk" text-anchor="middle">10</text>
<line x1="381.35" y1="326.5" x2="381.35" y2="323.0" stroke="#6e6e6e" stroke-width="1"/>
<line x1="381.35" y1="187.5" x2="381.35" y2="191.0" stroke="#6e6e6e" stroke-width="1"/>
<text x="381.35" y="339.0" class="tk" text-anchor="middle">15</text>
<line x1="440.90" y1="326.5" x2="440.90" y2="323.0" stroke="#6e6e6e" stroke-width="1"/>
<line x1="440.90" y1="187.5" x2="440.90" y2="191.0" stroke="#6e6e6e" stroke-width="1"/>
<text x="440.90" y="339.0" class="tk" text-anchor="middle">20</text>
<line x1="500.45" y1="326.5" x2="500.45" y2="323.0" stroke="#6e6e6e" stroke-width="1"/>
<line x1="500.45" y1="187.5" x2="500.45" y2="191.0" stroke="#6e6e6e" stroke-width="1"/>
<text x="500.45" y="339.0" class="tk" text-anchor="middle">25</text>
<line x1="304.2" y1="203.8" x2="332.5" y2="203.8" stroke="#4c5ae2" stroke-width="2.8"/>
<text x="342.5" y="208" class="lg" style="font-size:11px">T<tspan font-size="7.5" dy="3">2</tspan><tspan font-size="7" dx="-4.2" dy="-7">*</tspan><tspan dy="4">=28.4±1.8 </tspan><tspan class="mu">μs</tspan>,<tspan class="ser" font-size="12.5" dx="5">Δ</tspan><tspan class="si" font-size="12.5" dx="2">f</tspan><tspan dx="0.5">=19.5kHz</tspan></text>
<line x1="381.6" y1="307.8" x2="408.7" y2="307.8" stroke="#b4b4b4" stroke-width="2.8"/>
<text x="416.3" y="312" class="lg" style="font-size:11px">T<tspan font-size="7.5" dy="3">2</tspan><tspan font-size="7" dx="-4.2" dy="-7">*</tspan><tspan dy="4">=13.6±0.6 </tspan><tspan class="mu">μs</tspan></text>
<text x="353.5" y="353" class="lbl" text-anchor="middle">t <tspan class="sf">[</tspan><tspan class="si" font-size="12">μ</tspan>s<tspan class="sf">]</tspan></text>
<text transform="translate(162.5,257.9) rotate(-90)" class="lbl" style="font-size:11px" text-anchor="middle">P<tspan class="ser" style="font-size:13.5px">(1)</tspan></text>
<text x="0.6" y="17.3" class="pl">(a)</text>
<text x="133" y="17.5" class="pl">(b)</text>
<text x="291" y="17.5" class="pl">(c)</text>
<text x="132.5" y="199.8" class="pl">(d)</text>
</svg>
</body></html>
